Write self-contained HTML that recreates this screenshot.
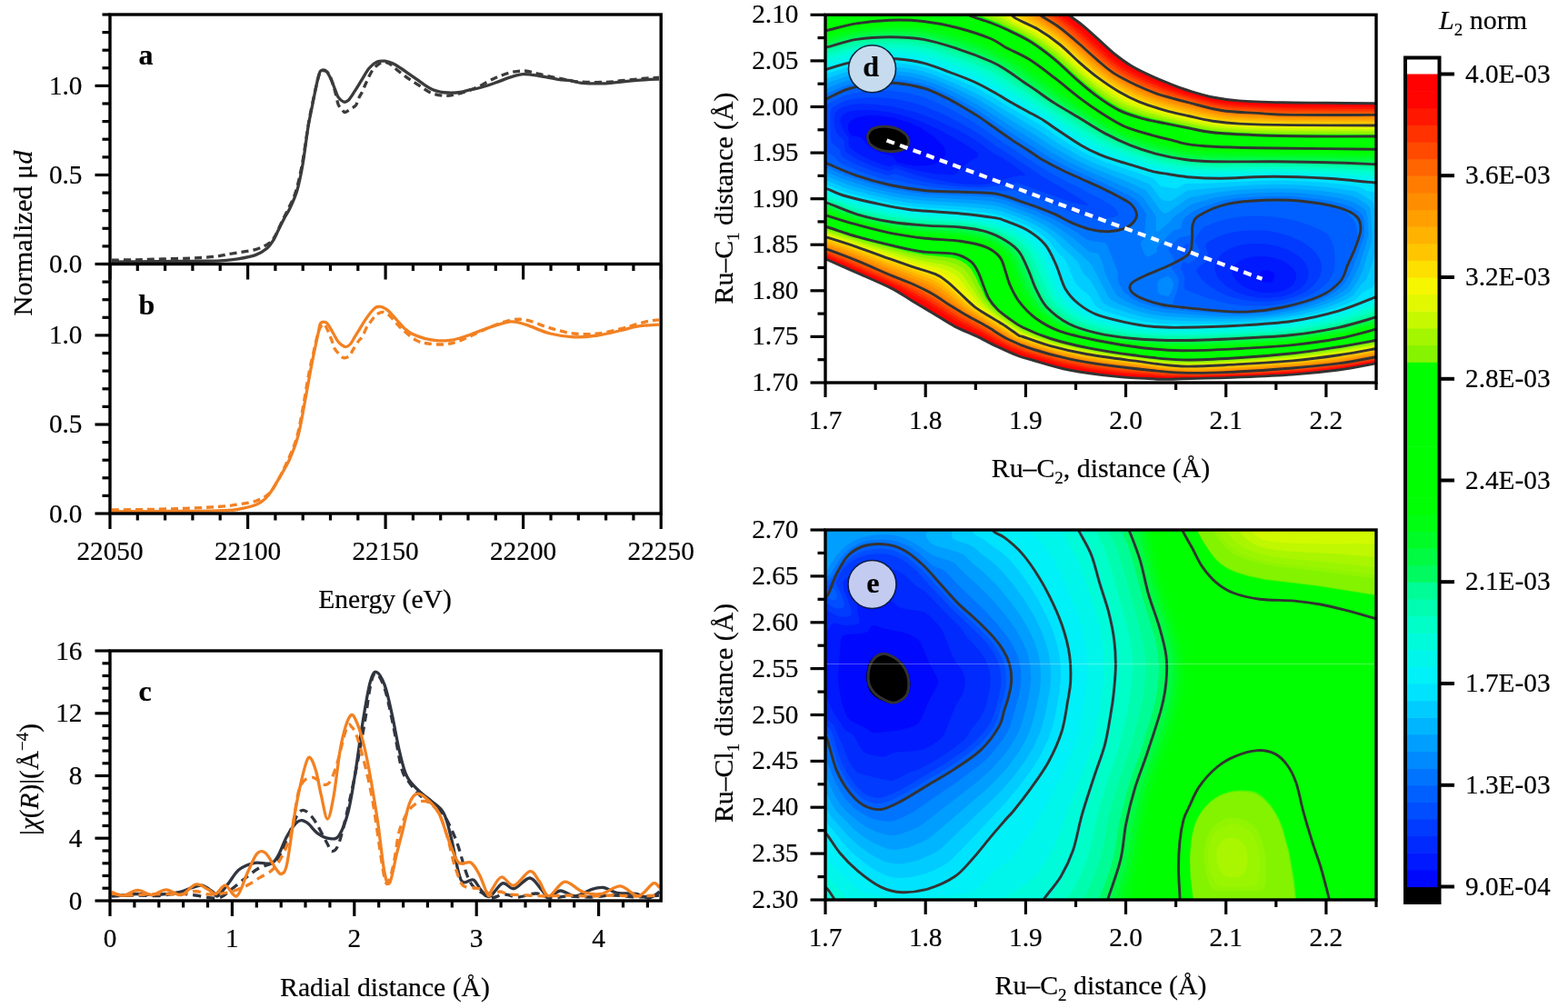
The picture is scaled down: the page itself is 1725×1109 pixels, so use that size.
<!DOCTYPE html><html><head><meta charset="utf-8"><title>figure</title><style>html,body{margin:0;padding:0;background:#fff;}svg{display:block;} text{stroke:#000;stroke-width:0.2px;}</style></head><body>
<svg width="1725" height="1109" viewBox="0 0 1725 1109" font-family="'Liberation Serif','Times New Roman',serif">
<defs>
<clipPath id="clipA"><rect x="121" y="16" width="606.2" height="274.5"/></clipPath>
<clipPath id="clipB"><rect x="121" y="290.5" width="606.2" height="274.5"/></clipPath>
<clipPath id="clipC"><rect x="121" y="716" width="606.2" height="275"/></clipPath>
</defs>
<rect width="1725" height="1109" fill="#fff"/>
<defs><clipPath id="clipD"><rect x="908" y="16.3" width="606" height="404.7"/></clipPath>
<clipPath id="clipE"><rect x="908" y="583" width="606" height="407"/></clipPath></defs>
<g clip-path="url(#clipD)">
<rect x="904" y="12" width="614" height="413" fill="#000000"/>
<path fill="#0008fd" fill-rule="evenodd" d="M904 12l614 0 0 413-614 0 0-413zM967 139l-4 0.8-4 1.6-2.9 2.6-1.2 2-0.4 3 1.1 5 1.5 3 3.1 3 9.5 5 9.3 1.5 8 0.3 3-0.4 5-1.8 3.3-2.6 2.1-5-0.2-4-2.3-4-4.3-4-6.6-3.9-5-1.8-7-1-8 0.7z"/>
<path fill="#0019fe" fill-rule="evenodd" d="M904 12l614 0 0 413-614 0 0-413zM956 127l-11 1.6-4.2 1.4-3.7 2-2.2 2-1.2 2-0.7 2.7 0 3.3 1 3.4 2 3 2 1.1 6 0.7 3 1 2 1.6 5.6 7.2 7.4 5.1 8 3.5 12 3.2 1.4 1.2 2.6 4.4 2 1.2 9.3 2.4 9.7 1.4 12.9-0.4 9.1-1.9 5.9-3.1 4.5-5 0.6-2-0.2-3-0.7-4-1.1-2-6.5-7-4.5-4-13.6-9-13.1-6-16.2-5-15.1-2.6-13-0.4zM1389 297.8l-1.6 1.2-1 3-0.3 4 0.9 2.5 2.8 1.5 4.2 0.7 4-0.4 2.5-1.3 1-2 0.4-3-0.1-2-1-2-2.8-1.6-3-0.8-6 0.2z"/>
<path fill="#002afe" fill-rule="evenodd" d="M904 12l614 0 0 413-614 0 0-413zM945 121l-10 1.6-4 1.4-3.5 2-1.9 2-1.2 3 0 3 0.8 3 3.3 7 5.3 8-0.2 7 1.4 3.1 5 4.1 7.6 4.8 7.7 4 9.7 4.1 12 4 2.6-0.1 4.4-2.2 20 5.7 13 2.8 13 2 17 1.1 2-0.2 2.2-1.2 15.8-13.4 7.6-4.6 1.4-2-0.2-2-2.7-3-14.2-9-27.2-15-19.7-8.7-17-5.7-18-4.3-17-2.3-15 0zM1382 282l-9 1.4-7 2.5-6 3.8-3.6 4.3-1 4 1.1 5 3.9 6 5.7 5 6.9 3.7 8 2.7 9 1.5 9 0.2 8-1.1 7-2.2 6-3.6 3.8-4.2 2.1-5-0.2-5-2.7-5-6-5.5-7-3.9-9-3-9-1.5-10-0.1z"/>
<path fill="#003bff" fill-rule="evenodd" d="M904 12l614 0 0 413-614 0 0-413zM939 114.9l-6 1.1-6 2-4 2.1-3.3 2.9-1.3 2-0.5 3 0.1 9 0.8 5 1.2 3.1 2 2.9 7 7.3 0.3 8.7 1.2 3 10.6 7 13.9 6.7 11 4.1 10 3.1 3 0 5-2.6 2-0.1 22 7.2 17.6 4.6 21.4 4 17 1.8 12 0.4 11-0.9 6-1.4 10-3.6 18-4 7.3-0.3-0.4-1-3.2-3-9.7-7-12-8.3-10-4.9-11.4-8.8-11.6-7.8-18-10.1-22-10.2-24-8.7-25-6.1-23-2.7-10-0.1-9 0.6zM1376 267.9l-12 1.9-10 3.3-9 5.3-3 2.8-2 2.9-2 4.3-1.4 4.6-0.2 3 0.8 4 1.8 4 2.7 4 7.5 7 10.5 6 11.4 4 12.9 2.4 13 0.4 13-1.6 10.7-3.2 9-5 6.1-6 2.3-4 1.2-4 0.3-4-0.7-4-1.6-4-2.6-4-3.7-4-4-3.3-11-6.2-12-4.1-14-2.3-14-0.2z"/>
<path fill="#004eff" fill-rule="evenodd" d="M904 12l614 0 0 413-614 0 0-413zM945 108l-12 2.1-10 3.8-8 5.2-1.2 1.9-0.5 3 0.1 24 0.5 5 1 3 2.1 2.8 6.6 5.2 1.4 6 1 2 5 3.3 10 5.2 17 6.9 17 5.2 3 0.2 4-1.3 2-0.2 18 5.1 15 3.5 13 2.3 16 2.1 20 1.7 16 0.1 22-2.4 12-2.3 4 0 57 20.7 13 3.2 6.4 0.7 0.3-1-0.9-1-9.7-7-37.1-21.4-42-28.2-9.9-5.4-12-9-13.1-8.8-14-8.2-20-10.2-24-9.8-12-3.5-12-2.7-10-1.5-10-0.9-13-0.2-12 0.8zM1366 253.9l-12 2-12 3.7-11.2 5.4-3 2-1.5 2 0.2 3 2.6 7-0.5 4-2.3 5-8.8 7-1.3 3 1.3 3 4.5 6 5 5 6.7 5 13.3 7 8.4 3 8.6 2.3 18 2.6 17-0.1 9-1.1 8-1.6 7.1-2.1 7.4-3 5.6-3 5.6-4 4.4-4 3.8-5 2.7-5 1.4-6 0-5-1.3-5-2.5-5-3.8-5-5.4-5-5.5-4-7.5-4.2-8-3.5-8-2.6-9-2.2-9-1.4-10-0.8-18 0.6z"/>
<path fill="#0060ff" fill-rule="evenodd" d="M904 12l614 0 0 413-614 0 0-413zM958 100l-16 2-11 2.7-8.1 3.3-10.9 5.7-2 1.4-1 1.8-0.4 38.1 0.7 10 1.7 3.2 7 4.2 4 5.2 5 2.8 19.8 8.6 22.2 7.1 7 1.6 7 0 17 4 16 2.9 15 1.8 31 2.2 33 0.5 10 0.8 10-0.6 47 16.8 14 6.5 24 7.6 4 0.4 17-0.7 6.5-1.9 2.9-2-0.1-2-1.2-2-5.1-5.4-15-8.8-11-5.3-10-6.1-14-6.4-24-13.1-48-31.1-29-20.4-13-7.7-19-10.2-22-9.6-19-5.3-20-2.9-9-0.3-13 0.6zM1304 269l-3.9 4-1.8 3 0.6 3 2.1 1.7 1-0.1 2-1.7 2-3.1 2-4.8 0-2-1-0.7-3 0.7zM1369 238l-15 1.8-15 3.9-13 5.4-3 2.2-3 3.4-4.8 7.3-0.9 3 5.1 10 0.2 3-1.6 4-2.6 3-7.4 4.7-2 0.2-3-2-1 0.1-1.5 2-1.1 3 0 3 3.8 8-0.6 11 0.4 2.5 1 1.3 26 9.8 17 4.6 11 2 11 1.2 11 0.4 11-0.3 12-1.1 11-1.9 11-2.8 10-3.5 9.3-4.2 6.6-4 6.3-5 4.6-5 3.8-6 1.9-5 1-7 0.1-8-0.7-8-1.7-7-3.9-8-2.6-3-7-4-12.7-5.6-10-3.3-10-2.6-11-2-13-1.4-14-0.5-13 0.4z"/>
<path fill="#0074ff" fill-rule="evenodd" d="M904 12l614 0 0 413-614 0 0-247.9 9 3.4 18.9 8.5 13.5 5 23.9 7 18.9 4 17.5 3 17.3 1.9 70 3 6 0.9 11 2.7 26 9 16 6.1 9 3.8 15 7.7 16 6.9 11 3.1 10 1.2 11 0.3 5 1.3 4.1-2.9 7.9-3.4 4-2.9 3-3.9 1.9-5.8-1.2-5-3.3-5-4.4-3.9-6.7-4.1-21.2-11-39.1-17.7-21-10.7-10-6-29-19-33.9-23.6-10.9-7-26.5-15-22.5-10-14.7-4-15.5-2.6-12-0.7-14 0.8-17 2.3-13 3-8.6 3.2-15.4 7.3-6 2.1 0-98.4zM1379 222l-20 1.9-10.8 2.1-12.4 4-13.3 6-5.5 3.5-3.2 3.5-2 5-0.8 8-1 2.3-2 1.1-10 1.6-11.2 11-1.2 2 0 2 5.4 9 0.5 2-0.5 1.4-2.9 2.6-0.6 2 8 11 1.6 4-1.6 10-4.8 14-0.4 2 0.5 1 3 1 25.7 3 37.5 3.1 20 0 21.2-2.1 25.1-5 13.9-4 11-4 8.4-4 6.5-4 6.2-5 5.6-6 3.1-5.4 3.7-10.6 5.3-12.1 5-13.7 1.3-5.2-0.3-8.1-2-7.7-3.4-5.2-5-5-4.2-3-9.1-3-13.9-3-19.9-3-27.5-1.8-29 0.8z"/>
<path fill="#008aff" fill-rule="evenodd" d="M904 12l614 0 0 413-614 0 0-242 4 1 23 9.5 12 4.3 19 5.5 19.7 4.7 18.3 3.3 18 2.1 60 2.7 17 1.4 14 3.7 32.4 11.8 16.6 7.4 25 14 12 8.9 8 2.3 13 1.5 1 0.9 1.6 3 11 28 0.7 3-0.9 5 0.7 3 4 8 3 4 7.5 6 9.4 4.7 15 4.6 15 2.9 34 3.1 27 1.7 17 0.6 15-0.5 20-1.9 18.4-3.2 20.4-5 16.2-5.4 9-4.1 9-5.5 7.3-6 4.6-6 2.8-5 7.7-19 7.8-23 1-7-0.9-13-0.9-3-1.9-3-3.5-2.9-7-4.4-13-4.3-12-2.5-14-2.2-28-2.6-28-0.1-31 2.1-12.4 1.9-11.7 3-14.3 5-10.6 5.1-6.8 4.9-3.2 3-1.5 3-0.8 5-0.8 2-1.7 1-5.2 1.2-2 1.2-15.7 15.6-1.7 3 0 4-0.6 1.2-7 3.4-2 0.7-2-0.2-2.3-3.1-3.9-11 0.5-2 2.8-3 1.1-3 0.9-16 0.9-7-1-3-2.4-4-5.1-7-3.5-3.4-4-2.9-7-3.7-23.1-11-36.9-16.5-22-11.4-42-26.9-35.8-24.2-14.2-8.4-17.7-9.6-19.3-8.7-13-4.4-19-3.9-17-1.3-19 1.3-20 3.5-11 3.2-19 8.3-5 1.2 0-92.2zM1281 305l3-0.9 2 0.4 3 2.9 1.9 3.6-0.1 4-1.6 5-2.2 4.2-2 1.5-3-0.1-5-1.3-2.1-1.3-1-2-0.6-9 0.7-3 2-1.8 5-2.2z"/>
<path fill="#009fff" fill-rule="evenodd" d="M904 12l614 0 0 413-614 0 0-237.2 7 2.1 19 7.8 11 3.8 19.6 5.5 21.4 5 17 3 18 2.1 56 2.9 21 1.8 12 2.9 28.3 10.3 16.7 7.7 12.4 7.3 16.6 11.5 17 14.6 3 1.3 6 1 2 0.8 1.9 2.8 3.9 10 1.6 8 1.2 3 9.9 19 3.5 4 10 6 12 5.3 16 4.4 14 2.4 35 2.5 28 1.3 19 0.2 16-0.7 20-2 19-3.3 20-4.7 17-5.6 12-5.5 8.6-5.3 5.4-4.3 4.1-5.7 4.3-7 4.9-12 9.6-30 0.6-5-1.2-19-1.1-5-1.2-1.9-2-1.8-11-7.1-15-4.1-21-3.4-23-2.4-22-0.9-29 0.8-25 2.2-18 3.2-23 6.5-4.1 1.9-16.8 12-2.2 2-2.9 4.3-3.9 2.7-7.1 6.6-3 1.4-1-1-0.3-2 0.2-12-0.7-3-13.2-19-5-4.5-11-5.8-49.8-21.7-22.4-11-17.8-10.4-16-10.7-20-12.4-40-26-23.1-12.5-20.9-9.5-14-5.1-15-3.6-16-2.2-15-0.2-18 1.7-17 3.2-10 2.9-19 7.6-4 0.9 0-86.7z"/>
<path fill="#00b5ff" fill-rule="evenodd" d="M904 12l614 0 0 413-614 0 0-232.4 8 2.3 16 6.6 11 3.7 19 5.2 24 5.5 16 2.8 16 1.9 57 3.4 23 2.2 11 2.7 26 9.6 17 8.4 12 7.8 7.9 6.3 30.9 28 3.2 4.8 17 32.2 3 3.8 10.1 5.2 16.9 6.5 13.3 3.5 16.7 2.8 34 2 28 0.8 23 0 19-1 21-2.2 20-3.3 20-4.8 17-5.5 12-5.3 11-6.5 3-3.1 7.3-10.9 4.3-9 8.6-27 1.8-7 0.5-6-1.5-27-1-3.9-1.8-2.1-12.2-8.2-4-1.8-16-3.4-22-2.9-25-2-28-0.5-34 1.6-23 2.5-32 5.9-3 1.5-21 14.8-3 1.3-2-0.2-4-4.1-14-19.5-3.9-3-14.1-6.5-42-17.1-19-8.9-22.1-12.5-22.9-15.1-31-18.9-20-13-13.7-8-26.4-13-18.9-7.8-12.6-4.2-13.4-2.9-14-1.8-12-0.5-13 0.6-15 2-14 2.8-30 10 0-81.2z"/>
<path fill="#00ccff" fill-rule="evenodd" d="M904 12l614 0 0 413-614 0 0-227.7 8 2.2 15 6.2 11 3.6 19 4.9 25 5.7 15 2.5 14 1.7 49 3.2 33 3.2 10 2.2 24 9 16 8.1 10.6 7.2 6.9 6 8.5 9.3 14.8 13.7 3.1 4 3.3 8 1.8 3 7 6.8 2 2.7 11 20.5 2.5 3 7.9 4 22.6 7.6 15 3.6 17 2.6 32 1.4 35 0.3 24-0.5 24-1.7 23-2.8 19-3.5 20-5.1 17.1-5.9 10.9-5 6.7-4 9.3-12.7 4.5-4.3 1.3-2 7.2-20 1.2-9 0.5-17-0.7-28-1.2-9-1.8-2.2-15-9.1-3-1.3-26-4-30-2.6-29-1-27 0.7-32 2.2-40 3.9-3 1.3-15 9.9-3 0.6-5-0.7-3-1.3-2-1.9-9-12.2-3-2.7-13-5.3-41-15.4-21-9.5-21-12.1-27-17.8-62.5-37.5-22.5-11.1-31-12.5-13-3.9-14-2.6-15-1.5-14 0.1-16 1.5-16 2.8-10 2.6-17 5.8-6 1.5 0-75.7z"/>
<path fill="#00e3ff" fill-rule="evenodd" d="M904 12l614 0 0 413-614 0 0-222.9 7 1.6 14 5.8 11 3.5 19.7 5 27.3 6 25 3.6 50 3.5 34 3.7 10 2.1 20 7.5 9 4.1 10 6 7.5 5.5 6.3 6 9.1 12 8.6 9 2.9 6 4.8 13 3.5 6 5.3 5.7 10 8.1 6.1 10.2 1.9 2.2 10.2 4.8 23.8 6.9 18 3.8 18 2.2 31 0.7 41-0.4 30-1.4 27-2.4 22-3.2 22-4.7 22-6.5 15.1-6 5.2-3 6.7-7.4 11-5.4 2.6-5.2 1.7-7 0.9-10 0.4-45-0.3-27-0.4-5-0.9-3.8-2-1.8-9-1.7-8-4.1-3-0.9-20-2.5-22-1.9-23-1.3-25-0.5-21 0.6-53 2.6-23 0.3-2.9 1-6.1 3.7-3 0.8-15-2.3-2-1.2-5.3-6-2.7-1.9-53-18.1-13-5.4-11-5.4-20.3-12.2-26.8-18-31.9-18.1-21-12.9-17-9.2-22.2-9.8-22.8-8.9-12-3.9-13-2.8-14-1.9-12-0.7-13 0.4-14 1.5-15 2.6-10 2.6-16 5.1-6 1.2 0-70.2z"/>
<path fill="#00f1f8" fill-rule="evenodd" d="M904 12l614 0 0 190.8-40.2-4.8-38.8-2.5-40-0.9-51 1.9-21 0-29-1.7-21-3.2-15-4.1-35-10.9-14-5-12-5.2-18-10.1-36.3-24.3-31.7-17.6-31.5-18.4-21.5-10-40.2-15-11.8-3-15-2.4-14-1.1-14 0.1-14 1.3-15 2.5-11 2.5-17 5.2-6 1 0-65.1zM904 207l0-0.8 1 0.1 5 1.1 16 6.5 14.1 4.1 39.9 9 25 3.8 51 3.8 34 4 11 2.2 20 7.7 8 3.9 9 5.9 7.1 5.7 5.6 6 4 6 5.9 11 3.8 9 5.6 15.6 3 6.2 5.2 7.2 7.2 7 14.1 10 8.4 4 16.8 5 23.1 5 12.5 2 14.7 1.4 30 0.5 56-1.7 29-1.8 22-2 27.6-4.4 28.9-7 18.2-6 31.3-12.8 0 100.8-614 0 0-218z"/>
<path fill="#00f6ea" fill-rule="evenodd" d="M904 12l614 0 0 186.1-50-4.3-42-1.9-31-0.3-52 1.6-24-0.6-23-2.4-22-3.6-12-3.1-38-12.1-21-8.7-17-9.7-37-24.4-63-36.7-21.5-9.9-40.5-14.8-13-3.3-14-2.2-15-1.2-14 0-14 1.2-14 2.1-12 2.7-18 5.3-6 1.1 0-60.9zM904 210l0-0.7 5 0.9 16 6.3 16 4.8 39 8.8 24 3.5 51 3.7 28 3.3 16 3 18 7.2 8.5 4.2 7.7 5 7.2 6 5.6 6.1 3.9 5.9 4.4 9 3.9 9 6.3 17 2.8 6 5.6 8 6.9 7 10.8 8 12.4 6.2 15 4.8 20 4.4 27 4 13 1 15 0.2 57-1.4 58-3.8 28-3.9 29-6.3 18-5.3 35-12.7 0 95.8-614 0 0-215z"/>
<path fill="#00fbdb" fill-rule="evenodd" d="M904 12l614 0 0 182.7-50-3.9-41-1.7-32-0.3-52 1.3-23-0.5-23-2.5-22-3.7-11-2.8-35-11.3-12-4.6-11-5-14-7.8-40-25.9-63.2-38-10.2-5-12.6-5.3-39-14.1-13-3.4-15-2.4-16-1.2-15 0-14 1.1-14 2.1-12 2.8-19 5.5-5 0.7 0-56.8zM904 212l6 1.2 15 5.8 16 5.1 37 8.5 25 3.6 51 3.6 24 2.8 19 3.6 15 6.1 9.5 4.7 6.2 4 7.4 6 6.4 7 3.8 6 4 8 13 32 5.4 8 6.7 7 11.6 8.7 11 5.8 14 4.9 19 4.4 30 4.7 15 1.1 14 0.4 54-1.1 62-3.8 29-3.6 30-6.1 20-5.6 34-11.8 0 92-614 0 0-213z"/>
<path fill="#00fec8" fill-rule="evenodd" d="M904 12l614 0 0 179.2-50-3.4-40-1.4-33-0.4-52 1-23-0.5-24-2.7-20-3.5-11-2.8-33-10.9-23-9.9-16-9-90-56.8-12-7.1-10-4.8-13-5.5-38-13.5-13-3.5-15-2.5-17-1.3-16 0-15 1.1-13 1.8-13 3-19 5.4-5 0.8 0-52.8zM904 215l0-0.4 1 0 4 0.8 19 7.2 15 4.8 33 7.6 27 3.9 50 3.3 21 2.4 21 4.2 13 5.4 9.5 4.8 6.5 4.1 6.9 5.9 6.1 6.9 3.3 5.1 3.9 8 9.6 24 4.1 9 4.7 7 7.4 7.9 10.6 8.1 12.4 6.6 14 5 18 4.2 30 4.6 16 1.4 17 0.6 51-1 64-3.6 30-3.5 31-6 20.2-5.3 33.8-11.3 0 88.3-614 0 0-210z"/>
<path fill="#00fdaf" fill-rule="evenodd" d="M904 12l614 0 0 175.8-50-2.9-38-1.3-34-0.3-54 0.7-22-0.5-24-2.8-18-3.3-12-3-17.1-5.4-16.3-6-13.6-5.8-12.3-6.2-38.7-23.6-63-40.7-14-8.2-24-10.3-34-11.8-14-3.8-14-2.4-17-1.4-18-0.1-15 1-14 1.9-12 2.7-20 5.7-5 0.8 0-48.8zM904 218l0-0.8 6 1.1 21 8 14 4.5 32 7.2 26 3.6 49 3 16 1.7 18 3.2 8 2.2 6 2.4 10.1 4.9 8.9 5.3 6.9 5.7 5.4 6 3.3 5 3.6 7 10.2 25 5.1 11 4.6 7 7.7 8 11.2 8.5 11 6 14 5 18 4.4 16 2.8 16 2 17 1.4 18 0.6 47-0.7 66-3.5 31-3.3 32-5.8 21-5.2 34-10.7 0 84.5-614 0 0-207z"/>
<path fill="#00fc96" fill-rule="evenodd" d="M904 12l614 0 0 172.3-48-2.3-33.7-1-39.3-0.5-55 0.5-22-0.6-24-2.9-17-3.2-12-3-15-4.7-16-6-14-6.3-13-6.6-51-31.2-50-33.3-14-8.5-24-10.2-32-11.1-16-4.4-14-2.6-17-1.5-19-0.2-16 1-15 1.9-11 2.5-20 5.7-6 1 0-44.8zM904 220l3 0.1 4 1.1 20.2 7.8 11.9 4 15.5 4 15.4 3.3 13 2.1 15 1.7 49 3 16 1.6 17 3.1 8 2.3 6 2.5 10 5.1 8.3 5.3 5.7 4.9 4.4 5.1 6.3 11 10.6 26 5.7 11.9 4.7 7.1 6.6 7 11.5 9 11.2 6.3 15 5.5 17.2 4.2 17.5 3 16.7 2 17.6 1.3 19.1 0.7 43.9-0.5 68.4-3.5 30.9-3 30.2-5 22.5-5.1 36-10.7 0 80.8-614 0 0-205z"/>
<path fill="#00fa60" fill-rule="evenodd" d="M904 12l614 0 0 169.1-79-2.8-97-0.3-21-0.5-10-0.9-14-2-29-6.4-15-4.7-15-5.7-14-6.4-13-6.9-50.1-30.5-49.6-34-14.7-9-23.3-10-28.9-10-17.3-5-15.1-3-17-1.7-20-0.4-18 1-16 2-10 2.2-21 5.9-6 1 0-41zM904 223l0-0.6 2 0.1 5 1.1 21.6 8.4 12.2 4 30 7 12.3 2 15.9 1.8 20 1.5 28 1.3 15 1.5 17 3.2 13 4.7 9 4.8 7.9 5.2 4.8 4 4.3 5 5.5 10 10.5 26 6 12.2 5 8 6.4 6.8 11.3 9 12.2 7 13.4 5 20.3 5 17.5 3 16.8 2 19.1 1.4 20 0.8 40-0.4 67-3.2 31-2.6 33.3-5 23.7-5 37-10.4 0 77.4-614 0 0-202z"/>
<path fill="#00fb42" fill-rule="evenodd" d="M904 12l614 0 0 166.1-74-2.2-99-0.7-23-0.6-11-0.9-13-1.9-29-6.6-14-4.2-13-4.8-11-4.8-12-6-12-6.9-39.4-24.5-49.2-34-16.4-10.3-20-9.6-31.2-11.1-18.8-5.5-17-3.6-17-1.8-19-0.5-19 0.8-18 2.1-11.5 2.5-20.5 5.7-6 1.1 0-37.8zM904 225l3 0 4 1.1 21 7.9 12.2 4 29.8 7.1 14 2.3 15 1.7 20 1.7 28 1.3 14 1.5 16 2.9 13 4.6 7.3 3.9 7.7 5.1 5 4.2 4.1 4.7 4.5 8 10.9 27 4.4 9 6.7 11 7.4 8.1 12.8 9.9 13.1 7 14.3 5 21.3 5 18.1 3 17.3 2 20.1 1.5 19 0.7 38-0.4 66-3.1 33-2.8 33.5-4.9 23.8-5 35.7-9.8 0 74.8-614 0 0-200z"/>
<path fill="#00fc27" fill-rule="evenodd" d="M904 12l614 0 0 163.4-68-1.9-102-0.9-25-0.7-23-2.7-29-6.6-15-4.5-13-4.6-11-4.7-11-5.5-15.8-9.3-31.4-20-48.8-34.3-13.7-8.7-24.3-13-14-5.4-17-5.8-20-5.9-17-3.7-17-2-18-0.7-20 0.6-20 2.2-11 2.1-22 6-7 1.3 0-34.7zM904 228l0-0.8 5 0.7 33 11.4 17.8 4.7 17.2 3.7 15 2.4 17 1.9 41 2.5 13 1.4 16 2.9 13 4.4 7 3.7 6.1 4.1 4.9 4 4.5 5 3.9 7 10.3 26 3.8 8 8 13 8.2 9 13.4 10 13.4 7 14.4 5 21.2 5 17.1 3 17.8 2.3 20 1.7 20 1 37-0.1 63-3 36-2.7 34-4.7 25-5 37-10 0 72.5-614 0 0-197z"/>
<path fill="#00fe12" fill-rule="evenodd" d="M904 12l614 0 0 160.6-59-1.5-107-1.1-27-0.9-12-0.9-12-1.8-29-6.8-16-4.7-13-4.5-10-4.2-10.4-5.2-16.8-10-24.5-16-40.3-29.1-22.3-14.9-29.7-16.2-13-5.2-17-5.8-21-6-17-3.6-17-2.1-18-0.7-21 0.7-20 2.1-11 2-23 6.1-7 1.3 0-31.6zM904 230l0-0.5 1 0.1 4 0.7 34 11.2 18 4.7 17 3.7 15 2.5 18 2.1 39 2.5 13 1.5 16 3 12 4.2 6.1 3.3 5.7 4 5.2 4.6 3.6 4.4 3.1 6 8.7 23 4.6 10 8.4 13 8.1 9 13.2 10 13.1 7 16.2 5.8 22.2 5.2 17.8 3.2 19 2.6 38 3 35 0 57-2.5 42-2.9 34.5-4.4 27.5-5.2 38-10.1 0 70.3-614 0 0-195z"/>
<path fill="#00ff04" fill-rule="evenodd" d="M904 12l614 0 0 157.8-160-2.3-28-0.9-14-1-13-1.7-30-7.3-18-5.1-13-4.5-10-4.3-10.8-5.7-17.8-11-17.9-12-40.5-30.1-17.1-11.9-34.9-19.5-9-4-24-8.3-22.8-6.2-20.2-3.8-19-1.6-24-0.1-24 2.1-15 2.5-25 6.4-6 1 0-28.5zM904 232l7 1.2 37 11.6 31 7.3 16 2.7 19 2.3 36 2.4 12 1.4 16 3.1 11.4 4 5.6 3 5 3.6 4.9 4.4 3.1 3.9 2.7 5.1 7.5 21 5.9 13 4.3 7 5.2 7 8.4 8.7 12.7 9.3 13.5 7 16.8 5.8 24 5.5 36 5.8 36 3.3 31 0.5 48.2-1.9 49.8-3 37-4.2 31-5.5 40-10.4 0 68.1-614 0 0-193z"/>
<path fill="#00ff00" fill-rule="evenodd" d="M904 12l614 0 0 155.1-172-2.6-28-1.6-19.4-2.9-28.6-7.3-19-5.6-12-4.2-11-5.3-18-10.8-17-11.3-45.4-34.5-16.6-11.7-9-5.2-17-8.7-11-6.6-11-4.8-24-8-22-5.6-20-3.5-20-1.6-23 0.2-23 2-15 2.4-25 6.3-7 1.2 0-25.4zM904 235l0-0.8 5 0.8 35 10.6 21 5.5 16 3.5 16 2.7 19 2.3 33 2.3 11 1.3 16 3.1 12 4 9 5.6 7 7.2 3.1 5.9 7.4 22 5.6 12 3.7 6 5.4 7 9.7 10 12.7 9 14.4 7.2 17 5.6 24 5.5 36 6.1 34 3.6 28 0.8 38-1.1 62-3.5 39-4.1 34-5.8 40-10.2 0 65.9-614 0 0-190z"/>
<path fill="#00ff00" fill-rule="evenodd" d="M904 12l614 0 0 152.4-166-2.3-31-1.7-21-3.1-49-13.1-11-3.8-11-5.2-18-10.9-16-10.8-44-34.5-16.7-12-10.3-6-17-8.4-12.5-7.6-12-5-24.5-7.9-22-5.7-19-3-22-1.7-21 0.2-25 2.5-13 2.1-26.9 6.5-5.1 0.8 0-21.8zM904 237l0-0.5 1 0 5 0.9 37 11 34 8.3 17 3 19 2.5 41 3.3 17 3.4 11 3.8 8.5 5.3 6.4 7 2.4 5 7 22 5.2 11 7.5 11 6.1 7 5.3 5 6.4 5 7.7 5 14.1 7 17.4 5.7 25 5.7 36 6.2 35 4 26 1 32-0.7 65-3.5 41-4.1 36-5.7 42-10.3 0 63.7-614 0 0-188z"/>
<path fill="#00ff00" fill-rule="evenodd" d="M904 12l614 0 0 149.9-115-1.1-46-1-32-1.8-24-3.4-50-13.1-12-4.2-10-4.8-18-10.9-15-10.3-42-33.7-18.7-13.6-10.3-6-17-8.5-12-7.1-13.1-5.4-28.9-9.4-21-6-13-2-33-3-13 0.3-29 3.3-25 4.4-16 3.5 0-16.1zM904 239l0-0.4 1 0.1 5 0.9 37 10.9 34 8.4 18 3.2 17 2.4 40 3.2 15.1 3.3 11.3 4 7.6 4.6 6.1 6.4 3 6 7.2 22 4.9 10 3.9 6 4 5 11.9 12 14.6 10 14.3 7 17.1 5.6 25 5.8 36 6.3 36 4.4 25 1.3 30-0.5 65-3.5 43-4 39-6.1 42-9.8 0 61.5-614 0 0-186z"/>
<path fill="#00ff00" fill-rule="evenodd" d="M904 12l57.1 0-8.1 1.8-37 5.6-12 2.4 0-9.8zM999.2 12l518.8 0 0 147.5-124-1.1-36-1-25-1.3-14-1.5-16-2.6-48-11.9-11-3.5-8-3.2-10-5.1-11-6.7-23-16.1-34-28.2-18-13.6-12-7.5-19-9.6-11.6-6.6-14.4-5.9-37-12.1-13-4.7-6-1.2-18-2.1-9.8-2zM904 241l2-0.2 4 0.8 37 11.1 34 8.4 18 3.4 17 2.5 38 3 12 2.7 11.8 4.3 8.2 4.9 5.7 6.1 3 6 7.5 22 4.6 9 6.5 9 14.3 14 14.4 9.6 15.2 7.4 17.8 5.9 24 5.5 36 6.4 38 4.8 24 1.4 28-0.2 65-3.5 44-4 41.5-6.3 42.5-9.5 0 59.5-614 0 0-184z"/>
<path fill="#00ff00" fill-rule="evenodd" d="M904 12l15.9 0-2.7 1-13.2 2.5 0-3.5zM1032.8 12l485.2 0 0 145.1-118-0.9-39-1.2-26-1.4-14-1.5-17-2.9-52-12.5-11-3.7-9-4-10-5.5-12-7.6-19-14-39-32.7-13-9.5-11-6.9-34-17.4-47-16.6-11.5-4.8-2.7-2zM904 243l6 0.7 37 11.2 37 9 32 5.6 36 2.7 9 1.9 10.6 3.9 8.8 5 6.1 6 3.5 6 7.6 22 4.6 9 7.6 10 15.2 13.8 14.7 9.2 16.3 7.6 18 5.8 24 5.5 36 6.3 38 4.9 24 1.6 27-0.2 62-3.2 46-4.1 43-6.4 44-9.2 0 57.4-614 0 0-182z"/>
<path fill="#00ff00" fill-rule="evenodd" d="M1042.2 12l475.8 0 0 142.8-113-0.8-40-1.2-28-1.6-14-1.5-18-3.3-41-9.1-13-3.5-11-3.7-9-4-9.1-5.1-11.9-7.7-19.1-14.3-35.9-30.9-13-9.7-12-7.8-33-16.8-11-4.4-21.8-7.4-17.2-7-4.8-3zM904 245l7 1 27 8.5 17 4.8 34 7.9 28 5 34 2.3 8 1.9 8 3.1 9.3 5.5 5.7 5.8 3.6 6.2 7.9 22 4.7 9 8.1 10 15.2 13 5.8 4 9.1 5 17.6 7.9 19 6 23 5.3 36 6.3 40 5.2 24 1.7 25-0.1 61-3.2 46-4.1 46-6.6 44-8.7 0 55.3-614 0 0-180z"/>
<path fill="#00ff00" fill-rule="evenodd" d="M1051.6 12l466.4 0 0 140.4-109-0.6-40-1.2-30-1.8-12-1.2-10-1.7-51-10.7-15.7-4.2-10.3-3.5-10-4.4-8.9-5.1-10.7-7-18.4-14-35-30.8-14-10.5-12-7.9-9-5-23-11.2-11-4.4-22-7.5-11.7-5.7-2.7-2zM904 247l7 1.1 27 8.6 17 4.7 41 9.7 22 3.7 31 2 7 1.5 6 2.2 9.4 5.5 3.3 3 3.2 4 3.8 7 8.5 23 2.7 5 3.5 5 7.5 8 13.8 11 5.8 4 7.4 4 20.7 9 19.3 6 25.9 6 35.1 6 41.1 5.3 23.6 1.7 23.7 0 57.1-3 48.6-4.2 47-6.7 45-8.4 0 53.3-614 0 0-178z"/>
<path fill="#00ff00" fill-rule="evenodd" d="M1060.2 12l457.8 0 0 138.1-106-0.4-39-1.2-31-1.8-12-1.2-10-1.7-54-11.2-16-4.3-10-3.4-9-4-9-5.1-11.8-7.8-18.1-14-33.1-29.6-14-10.7-12-8.1-10.1-5.6-24.9-11.9-30.4-11.1-5.5-3-1.9-2zM904 249l7 1.1 27.7 8.9 17.3 4.9 43 10.3 19 3.3 29 2 7 1.4 5.6 2.1 8 5 5.4 6 4.7 9 8.3 21 5.5 9 8.5 9 14.5 11 11.2 7 23.6 10 19.4 6 25.6 6 35 6 44.7 5.8 23 1.7 22 0 56-2.9 50-4.3 47-6.5 46-8.3 0 51.5-614 0 0-176z"/>
<path fill="#50f600" fill-rule="evenodd" d="M1068.3 12l449.7 0 0 136.1-105-0.4-39-1.2-30-1.7-13-1.4-10-1.6-54-11.5-15-4.1-11-3.7-9-4-9.7-5.5-10.5-7-18.8-14.5-33-29.6-13-10-12-8.1-10-5.6-27-13.3-24.2-8.9-3.6-2-1.9-2zM904 251l6 0.7 39 12.2 49 12.7 19 3.8 28 2.8 7 1.7 5 2 6.4 4.1 4.6 4.6 5 8.5 11.4 23.9 6.2 8 7.2 7 17.7 13 8.5 5.2 20.9 8.8 18.6 6 29.2 7 35.2 6 51.1 6.5 15 1.2 15 0.3 24-0.7 39-2.1 50-4.2 48-6.5 48-8.4 0 49.9-614 0 0-174z"/>
<path fill="#86f300" fill-rule="evenodd" d="M1068.6 12l449.4 0 0 136-105-0.4-38-1.1-31-1.8-13-1.3-10-1.7-54-11.5-15-4.1-11-3.7-9-4-9.5-5.4-10.5-7-19-14.7-33-29.6-13-9.9-12-8.2-10-5.5-27-13.3-23.8-8.8-3.6-2-2-2zM904 251l6 0.7 39 12.3 49 12.8 19 3.7 28 2.9 6 1.4 5.6 2.2 6.4 4 5 5 5 8.5 11.3 23.5 6.1 8 7.3 7 17.7 13 8.6 5.3 20.7 8.7 18.6 6 29.2 7 35.1 6 51.4 6.6 16 1.2 14 0.3 23-0.7 39-2.1 51-4.2 48-6.5 48-8.4 0 49.8-614 0 0-174z"/>
<path fill="#a3f600" fill-rule="evenodd" d="M1077.3 12l440.7 0 0 134-104-0.4-37-1.1-30-1.6-14-1.4-11-1.8-52-11.4-12.4-3.3-12.6-4.2-10-4.2-10-5.5-11-7.2-20-15.3-33-29.6-12-9.2-11.6-7.8-9.4-5.3-17.8-8.7-10.2-5.8-16.7-6.2-3.9-2-2.1-2zM904 253l2-0.2 5 1.1 38 12.1 49 13.6 17 3.9 27 4 10.5 3.5 6.5 4 4.3 4 4.7 7 9.4 17 4.6 7 7.1 8 8.1 7 18.8 13.4 8 4.8 19.2 7.8 18.8 6 29.1 7 35.4 6 53.5 6.9 15 1.1 14 0.3 21-0.5 40-2.2 52-4.1 49-6.5 47-8.2 0 48.2-614 0 0-172z"/>
<path fill="#c6f900" fill-rule="evenodd" d="M1086.1 12l431.9 0 0 132-105-0.5-37-1-28-1.5-15-1.6-11-1.9-37-8.1-24.8-6.4-20.2-7.4-8-3.9-10-6-12-8.2-11-8.4-14-11.9-20-18.4-18.1-13.8-11.9-7.5-23-11.5-10-6.5-11.7-4.5-3.5-2-0.7-1zM904 255l0-0.4 2 0.1 5 1.1 45 14.3 42 12.5 15 3.8 26 5.2 9 3.1 5.7 3.3 4.8 4 20.3 29 8 8 8.8 7 20.4 14.2 7 4.3 20 7.9 18 5.7 29 6.9 32 5.5 58 7.5 15 1.2 14 0.4 21-0.6 41-2.2 52-4.1 49-6.4 46-8 0 46.7-614 0 0-170z"/>
<path fill="#e2f800" fill-rule="evenodd" d="M1094.9 12l423.1 0 0 130-105-0.5-36-0.9-27-1.4-15-1.7-12-2-36-8-24-6.4-12-4.1-10-4.1-9.5-4.9-10.5-6.4-12-8.3-10-7.7-14-12-18-16.6-15.4-12-15.6-10-22.2-11-8.8-6.6-7.6-3.4-2.5-2zM904 257l0-0.6 2 0.2 5 1.1 83 26.6 17 4.9 20.4 4.8 12.6 4.6 6 3.6 4.6 3.8 16.6 21 6.3 7 8.2 7 8.2 6 28.5 19 21.6 8.2 17 5.2 29 6.8 30 5.1 60 7.9 15 1.2 14 0.4 21-0.6 43-2.3 51-3.9 49-6.3 45-7.9 0 45.2-614 0 0-168z"/>
<path fill="#f6f600" fill-rule="evenodd" d="M1103.9 12l414.1 0 0 128-106-0.5-36-0.9-25-1.3-15-1.7-13-2.3-35-7.9-21-5.8-13.6-4.6-10.4-4.4-11-5.7-12-7.4-11-7.7-11-8.6-12-10.3-17.1-15.9-11.9-9.4-18-11.9-24-12.1-3.6-2.6-7.5-7zM904 259l0-0.7 3 0.3 8 2.3 80 26.7 33 9.5 9 3.5 6 3.4 6.6 5 19.4 21 8.7 8 40.3 27.3 5 2.7 14 5.2 23 7.3 26 6.2 29 5 65 8.6 14 1.2 14 0.5 21-0.5 43-2.3 53-4 48-6 45-7.9 0 43.7-614 0 0-166z"/>
<path fill="#fddf00" fill-rule="evenodd" d="M1110.8 12l407.2 0 0 126-105-0.5-37-0.9-24-1.3-14-1.6-15-2.6-34-7.8-18-5.1-14-4.7-12-5.1-13-6.8-12-7.4-21-15.6-12-10.3-17-15.8-10-8-18.7-12.5-23.5-12-4.6-4-2.4-4zM904 261l0-0.8 4 0.6 19.9 6.2 69.1 24.2 28 8.8 7 2.9 6 3.5 7 5.4 22.5 21.2 7.3 6 28.2 17.9 15 10.2 5 2.6 14 5 22 6.9 28 6.6 27 4.6 66 8.7 15 1.3 14 0.4 21-0.6 44-2.3 52-3.8 48-5.9 44-7.7 0 42.1-614 0 0-164z"/>
<path fill="#ffc600" fill-rule="evenodd" d="M1115.9 12l402.1 0 0 124.1-104-0.5-61-2.3-13-1.4-15-2.7-34-7.9-17-4.8-15-5.1-12-5-13-6.7-13-7.9-11-7.7-10-8-28-25.1-10-8.2-18-12.1-22-11.7-4.4-4-1.7-3zM904 263l0-0.8 5 0.9 24.3 7.9 95.7 34.4 5 2.7 7 5.2 23.7 20.7 7.6 6 28.7 17.7 17 11.3 4 2 16 5.7 22 6.7 27 6.2 29 4.8 64 8.3 15 1.2 14 0.5 21-0.5 45-2.3 53-3.9 46-5.6 44-7.7 0 40.6-614 0 0-162z"/>
<path fill="#ffb200" fill-rule="evenodd" d="M1120.9 12l397.1 0 0 122.1-103-0.3-62-2.6-13-1.5-14-2.6-33-7.8-18-5.1-15-5.1-13-5.5-14-7.3-12-7.3-9.8-7-9.9-8-27.9-25-9.4-7.7-16-11-22-12.5-3.3-2.8-1.8-3zM904 265l0-0.7 5 1 27 9 91 34 5 2.7 6 4.1 32 25.9 47 29.2 5 2.4 15 5.4 23 6.9 28 6.3 28 4.6 64 8.1 15 1.2 15 0.5 21-0.5 44-2.2 54-4 45-5.3 44-7.7 0 39.1-614 0 0-160z"/>
<path fill="#ff9f00" fill-rule="evenodd" d="M1126 12l392 0 0 120.2-103-0.3-62-2.9-12-1.4-14-2.6-32.8-8-18.2-5-15-5.2-13-5.6-15-7.7-12-7.4-18.2-14.1-26.8-24-10-8.3-12-8.5-24.8-15.2-2.2-2-1-2zM904 267l0-0.6 1 0.1 4 0.9 29 10.1 87 33.7 11 6.6 19.4 15.2 13.8 10 46.8 28.4 5 2.5 15 5.4 25 7.4 28 6.2 31 4.9 61 7.4 16 1.2 15 0.4 21-0.5 43-2.1 56-4.2 43-5 43-7.6 0 37.6-614 0 0-158z"/>
<path fill="#ff8d00" fill-rule="evenodd" d="M1131.1 12l386.9 0 0 118.3-102-0.3-62-3-12-1.4-14-2.7-33-8.2-19-5.3-14-5-13-5.5-15-7.7-12-7.2-15.4-12-38.6-33.8-9-6.6-25.5-16.6-2.4-3zM904 269l0-0.5 1 0.1 4 1 30 10.7 82 32.8 12 6.7 19.2 14.2 14.7 10 48.1 28.7 6 2.8 14 5.1 27 7.9 29 6.3 32 4.8 58 6.8 16 1.2 16 0.4 21-0.5 42-2 58-4.3 42-4.9 42-7.4 0 36.1-614 0 0-156z"/>
<path fill="#ff7c00" fill-rule="evenodd" d="M1136.3 12l381.7 0 0 116.3-102-0.2-62-3.2-12-1.5-13-2.6-52-13.7-13-4.6-14-6-15-7.6-12-7.1-12.6-9.8-40.4-35.3-9-6.7-17.3-11-6-5-1.4-2zM904 271l0-0.4 1 0.1 4 1.1 30 11 77 31.7 13 6.7 33 22.4 51 29.8 7 3.4 13 4.8 30 8.8 29 6.1 34 5 55 6.2 17 1.1 16 0.4 21-0.5 41-1.9 60-4.4 39-4.4 43-7.7 0 34.7-614 0 0-154z"/>
<path fill="#ff6500" fill-rule="evenodd" d="M1141.2 12l376.8 0 0 114.3-102-0.1-62-3.5-12-1.5-12-2.4-51-13.7-13-4.6-14-5.9-15.2-7.6-12-7-11.6-9-40.2-35.2-10-7.6-17.4-11.2-3.3-3-1.1-2zM904 273l2 0 4 1.2 30 11.4 60 25 15 6.9 14 7.6 16.1 10.9 15.9 9.8 24 13.3 20 12.1 12 6.1 19 7.1 28 7.9 31 6.3 36 5.1 52 5.4 32 1.2 61.7-2.3 60.3-4.4 40-4.5 41-7.4 0 33.3-614 0 0-152z"/>
<path fill="#ff4a00" fill-rule="evenodd" d="M1146.2 12l371.8 0 0 112.3-102-0.3-61-3.3-12-1.5-13-2.6-47-12.9-13-4.4-15-6.3-16.3-8-11.9-7-11.7-9-38.1-33.5-13-10-14.6-9.5-2.1-2-1.1-2zM904 275l0-0.4 1 0.1 4 1.1 30 11.7 56 23.8 12.2 5.7 19 10 30.8 19.5 26.8 14.5 20.2 11.9 11 5.5 18 6.9 32 9.1 31 6.2 39 5.3 48 4.5 32 1 64-2.4 57-4.1 40-4.4 42-7.5 0 32-614 0 0-150z"/>
<path fill="#ff3200" fill-rule="evenodd" d="M1151.4 12l366.6 0 0 110.2-102-0.4-57-2.9-13-1.3-12-2.2-36-9.6-20-6.3-15-5.9-18.4-8.6-14.1-8-12.5-9.3-37-32.7-16-12.4-10.2-6.6-2.2-2-1.2-2zM904 277l0-0.5 1 0.1 4 1.1 25 9.9 64 27.9 26 13.7 31.6 19.8 25.4 13.2 22 12.6 10 4.9 17 6.7 36 10.2 31 6.1 39 5 47 4.1 32 0.6 64-2.2 59-4.2 39-4.4 41-7.4 0 30.8-614 0 0-148z"/>
<path fill="#ff1700" fill-rule="evenodd" d="M1156.6 12l361.4 0 0 108.1-102-0.5-55-2.6-14-1.4-12-2.1-34-9.1-21-6.9-15-5.9-18.3-8.6-14-8-11.7-8.6-34.2-30.4-19.8-15.6-8-5.4-2.4-3zM904 279l0-0.7 4 1 19.4 7.7 64 28 30.6 16.5 32 19.9 24 12 22 12.2 12 5.9 16 6.3 40 11.3 31 5.8 39 4.8 45 3.5 33 0.3 64-2.3 58-4 39-4.4 41-7.4 0 29.6-614 0 0-146z"/>
<path fill="#ff0400" fill-rule="evenodd" d="M1161.9 12l356.1 0 0 106-102-0.6-53-2.4-15-1.4-13-2.2-31.2-8.4-21.8-7.4-16-6.5-18-8.5-13-7.5-13-9.7-32-28.6-26.7-20.8-1.4-2zM904 281l0-0.8 3 0.6 13 5.2 46.4 20 21.7 10 32.1 18 31.8 19.5 25 12.2 22 11.8 12 5.8 16 6.3 42 11.8 31 5.6 39 4.6 43 3 34-0.1 64-2.2 58-3.8 38-4.3 42-7.5 0 28.3-614 0 0-144z"/>
<path fill="#ff0100" fill-rule="evenodd" d="M1167.3 12l350.7 0 0 103.8-101-0.7-51-2-14-1.2-14-2.2-12.4-2.7-14.1-4-15.7-5-23.4-9-19.6-9-13.8-7.8-15.3-11.2-30.7-27.6-19.7-15.4-4.6-4-1.4-2zM904 283l0-0.9 1 0.1 7.7 2.8 70.1 31 36.5 21 30.7 18.7 26 12.3 33 16.7 17 6.8 43 12 14 2.9 18 2.8 39 4.3 42 2.5 34-0.3 67-2.3 57-3.8 37-4.1 41-7.5 0 27-614 0 0-142z"/>
<path fill="#ff0000" fill-rule="evenodd" d="M1172.6 12l345.4 0 0 101.1-49-0.1-15-1.1-12 0.8-22-0.1-47.7-1.6-17.3-1.3-11-2.2-9-1-18-4.5-19-6-22.9-9-19.6-9-13.7-8-16.3-12-31.5-28-18.1-14-3.3-4zM904 285l0-0.8 2 0.4 8.6 3.4 64 29 11 6 58.4 35.6 26.8 12.4 31.2 15.5 9 3.9 10 3.2 46 12.7 31 5.2 42 4.3 36 1.8 41-0.7 74-2.6 54-3.9 33-4 36-6.8 0 25.4-614 0 0-140z"/>
<path fill="#ffffff" fill-rule="evenodd" d="M1172.6 12l345.4 0 0 101.1-49-0.1-15-1.1-12 0.8-22-0.1-47.7-1.6-17.3-1.3-11-2.2-9-1-18-4.5-19-6-22.9-9-19.6-9-13.7-8-16.3-12-31.5-28-18.1-14-3.3-4zM904 285l0-0.8 2 0.4 8.6 3.4 64 29 11 6 58.4 35.6 26.8 12.4 31.2 15.5 9 3.9 10 3.2 46 12.7 31 5.2 42 4.3 36 1.8 41-0.7 74-2.6 54-3.9 33-4 36-6.8 0 25.4-614 0 0-140z"/>
</g>
<g clip-path="url(#clipD)" fill="none" stroke="#333" stroke-width="2.9" stroke-linejoin="round">
<path d="M904,110C905.1,109.7 905.7,110.1 910.5,108.1C915.3,106.1 924.5,100.6 932.7,98C941,95.4 951.1,93.6 960,92.5C968.9,91.4 977,90.8 986.3,91.5C995.6,92.2 1007,94.4 1016,97C1025,99.6 1033,103.8 1040,107.1C1047,110.4 1052,113.5 1058,117C1064,120.5 1070.1,124 1076.1,127.9C1082.1,131.8 1088.1,136.3 1094.1,140.5C1100.1,144.7 1106.1,149 1112.1,153.1C1118.1,157.2 1124.2,160.9 1130.2,164.8C1136.2,168.7 1141.6,172.8 1148.2,176.6C1154.8,180.4 1162.8,184.5 1169.7,187.8C1176.6,191.2 1182.9,193.7 1189.5,196.7C1196.1,199.7 1202.8,202.4 1209.4,205.6C1216,208.8 1223.4,212.4 1229.2,215.6C1235,218.8 1240.5,221.2 1244.1,224.5C1247.6,227.8 1250,232.1 1250.5,235.4C1251,238.7 1249.3,241.7 1247.1,244.3C1244.9,247 1241.7,249.6 1237.1,251.3C1232.5,253 1225.6,254.5 1219.3,254.7C1213,254.9 1206,253.9 1199.4,252.3C1192.8,250.7 1186.2,248.1 1179.6,245.3C1173,242.5 1166.4,238.4 1159.8,235.4C1153.2,232.4 1144.9,229.4 1139.9,227.5C1134.9,225.6 1135.8,226 1130,224C1124.2,222 1111.7,217.4 1105,215.5C1098.3,213.6 1098.5,213.2 1089.8,212.5C1081.1,211.8 1065.3,211.5 1053,211C1040.7,210.5 1028.3,210.8 1016,209.5C1003.7,208.2 991.3,206.2 979,203.5C966.7,200.8 953.4,197 942,193.1C930.6,189.2 916.8,182.8 910.5,180.2C904.2,177.6 905.1,178.2 904,177.8"/>
<path d="M1312.2,246.7C1313.7,242.3 1313.9,240.2 1320.3,236.5C1326.7,232.8 1338.9,227.1 1350.7,224.4C1362.5,221.7 1377.8,220.8 1391.3,220.3C1404.8,219.8 1418.4,220 1431.9,221.3C1445.4,222.7 1462.3,225.5 1472.5,228.4C1482.7,231.3 1488.7,234.5 1492.8,238.6C1496.9,242.7 1497.2,247.1 1496.9,252.8C1496.6,258.6 1493.2,266.7 1490.8,273.1C1488.4,279.5 1485.4,285.2 1482.7,291.3C1480,297.4 1479.6,303.9 1474.5,309.6C1469.4,315.4 1462.7,321.1 1452.2,325.8C1441.7,330.5 1425.1,335.1 1411.6,338C1398.1,340.9 1384.5,342.6 1371,343.1C1357.5,343.6 1342.2,342 1330.4,341.1C1318.6,340.2 1308.8,339 1300,338C1291.2,337 1285,336.7 1277.5,335C1270,333.3 1260.8,330.4 1255.2,327.9C1249.6,325.3 1245.7,322.4 1244,319.7C1242.3,317 1242.5,314.3 1245,311.6C1247.5,308.9 1252.2,306.9 1259.3,303.5C1266.4,300.1 1279.6,295.4 1287.7,291.3C1295.8,287.2 1304,283.7 1308,279C1312,274.3 1310.8,268.4 1311.5,263C1312.2,257.6 1310.7,251.1 1312.2,246.7Z"/>
<path d="M954.9,147.9C955.8,145.9 957.1,142.9 960.5,141.4C963.9,139.9 970.3,138.9 975.2,139.2C980.1,139.5 986,141 990,143.2C994,145.4 998.1,149.4 999.3,152.5C1000.5,155.6 999.6,159.4 997.4,161.7C995.2,164 990.9,165.7 986.3,166.3C981.7,166.9 974.3,166.5 969.7,165.4C965.1,164.3 961.1,161.9 958.6,159.9C956.1,157.9 955.5,155.4 954.9,153.4C954.3,151.4 954,149.9 954.9,147.9Z"/>
<path d="M904,77C905.1,76.8 905.7,77.1 910.5,75.8C915.3,74.5 924.5,71.1 932.7,69.3C941,67.5 951.1,65.8 960,65C968.9,64.2 977,64 986.3,64.7C995.6,65.4 1006.2,66.8 1016,69.3C1025.8,71.8 1035.7,76 1045,79.5C1054.3,83 1063.4,86.3 1071.6,90C1079.8,93.7 1087.3,98 1094.1,101.7C1100.8,105.5 1106.1,109 1112.1,112.5C1118.1,116 1124.2,119.2 1130.2,122.5C1136.2,125.8 1142.9,129.2 1148.2,132.4C1153.5,135.7 1155.1,137.4 1162,142C1168.9,146.6 1181.6,155.3 1189.5,160C1197.4,164.7 1202.8,167.1 1209.4,169.9C1216,172.7 1222.6,174.8 1229.2,176.9C1235.8,179.1 1242.4,180.8 1249,182.8C1255.6,184.8 1262.9,187.4 1268.9,188.8C1274.9,190.2 1278.2,190.5 1285,191.5C1291.8,192.5 1300.2,194.2 1310,195C1319.8,195.8 1328.5,196.3 1343.8,196.2C1359.1,196.1 1382.5,194.2 1401.9,194.2C1421.3,194.2 1441.8,195.1 1460.1,196.2C1478.4,197.3 1502.3,200 1512,201C1521.7,202 1517,201.8 1518,202"/>
<path d="M904,53C905.1,52.8 904.2,53.3 910.5,51.7C916.8,50.1 930.6,45.2 942,43.4C953.4,41.6 966.7,40.7 979,40.7C991.3,40.7 1003.7,41.2 1016,43.4C1028.3,45.5 1040.7,49.6 1053,53.6C1065.3,57.6 1080.8,63.6 1089.8,67.5C1098.8,71.4 1101,73.2 1107,77C1113,80.8 1120.3,86.3 1125.7,90C1131.1,93.7 1133.5,95.1 1139.2,99C1144.9,102.9 1151.8,108.2 1160,113.4C1168.2,118.6 1178.9,124.7 1188.2,130.3C1197.5,135.9 1206.7,142 1215.9,146.9C1225.1,151.8 1234.3,156.2 1243.6,159.9C1252.8,163.6 1261.2,166.4 1271.4,169.1C1281.6,171.8 1294.5,174.4 1305,175.8C1315.5,177.2 1317.9,177.5 1334.1,177.8C1350.2,178.1 1380.9,177.7 1401.9,177.8C1422.9,178 1441.8,178.2 1460.1,178.7C1478.4,179.2 1502.3,180.3 1512,180.7C1521.7,181.1 1517,180.9 1518,181"/>
<path d="M904,34.5C905.1,34.3 904.2,34.7 910.5,33.3C916.8,31.9 930.6,27.8 942,25.9C953.4,24 966.7,22.6 979,22.2C991.3,21.8 1003.7,22.1 1016,23.5C1028.3,24.9 1040.7,27.3 1053,30.5C1065.3,33.7 1080.8,38.8 1089.8,42.5C1098.8,46.2 1099.8,48.6 1107,52.5C1114.2,56.4 1123.8,60 1132.7,65.6C1141.6,71.2 1151.2,78.8 1160.5,85.9C1169.8,93 1179.6,101.6 1188.2,108.1C1196.8,114.6 1203.9,119.6 1212.2,124.8C1220.5,130 1228.8,135.5 1238.1,139.5C1247.3,143.5 1259.1,146.3 1267.7,148.8C1276.3,151.3 1283.6,152.7 1289.8,154.3C1296,155.9 1297.6,157.2 1305,158.4C1312.4,159.6 1321.2,160.6 1334.1,161.3C1347,162 1361.5,162.4 1382.5,162.8C1403.5,163.2 1438.5,163.4 1460.1,163.6C1481.7,163.8 1502.3,164.1 1512,164.2C1521.7,164.3 1517,164.3 1518,164.3"/>
<path d="M1058,12C1059.6,12.9 1062.4,15.3 1067.7,17.5C1073,19.7 1083.2,22.5 1089.8,25C1096.3,27.5 1099.8,28.9 1107,32.3C1114.2,35.7 1123.8,39.8 1132.7,45.3C1141.6,50.8 1152.2,58.8 1160.5,65.6C1168.8,72.4 1175.2,79.4 1182.6,85.9C1190,92.4 1196.8,98.5 1204.8,104.4C1212.8,110.3 1222.1,116.8 1230.7,121.1C1239.3,125.4 1248,127.9 1256.6,130.3C1265.2,132.8 1273.8,134 1282.4,135.8C1291,137.6 1299.4,139.3 1308,141C1316.6,142.7 1321.7,144.5 1334.1,145.8C1346.5,147.1 1364.7,148 1382.5,148.7C1400.3,149.4 1419.1,149.8 1440.7,150C1462.3,150.2 1499.1,150 1512,150C1524.9,150 1517,150 1518,150"/>
<path d="M1110,12C1111,13.2 1110.8,16 1116.1,19.4C1121.4,22.8 1133.7,27.4 1142,32.3C1150.3,37.2 1158.3,42.8 1166,49C1173.7,55.2 1181.1,63.1 1188.2,69.3C1195.3,75.5 1201.4,80.7 1208.5,85.9C1215.6,91.1 1223.3,96.4 1230.7,100.7C1238.1,105 1244.6,108.4 1252.9,111.8C1261.2,115.2 1271.6,118.5 1280.6,121.1C1289.6,123.7 1298.1,125.5 1307,127.5C1315.9,129.5 1324.7,131.8 1334.1,133.2C1343.5,134.6 1348.7,135.4 1363.2,136.1C1377.7,136.8 1396.5,137.3 1421.3,137.6C1446.1,137.9 1495.9,137.9 1512,138C1528.1,138.1 1517,138 1518,138"/>
<path d="M1140,12C1141,12.9 1141.4,14.4 1145.7,17.5C1150,20.6 1158.9,25.2 1166,30.5C1173.1,35.8 1181.4,43.1 1188.2,49C1195,54.9 1200.6,60.4 1206.7,65.6C1212.8,70.8 1218,75.8 1225.1,80.4C1232.2,85 1241.5,89.6 1249.2,93.3C1256.9,97 1264.6,100.1 1271.4,102.6C1278.2,105.1 1283.9,106.4 1289.8,108.1C1295.7,109.8 1298,110.5 1307,112.7C1316,114.9 1331.2,119.5 1343.8,121.5C1356.4,123.5 1369.6,123.6 1382.5,124.4C1395.4,125.2 1399.7,126.1 1421.3,126.4C1442.9,126.7 1495.9,126.4 1512,126.4C1528.1,126.4 1517,126.4 1518,126.4"/>
<path d="M1171,12C1172,12.9 1173.6,14.7 1177.1,17.5C1180.6,20.3 1186.7,24.3 1191.9,28.6C1197.1,32.9 1202.7,38.2 1208.5,43.4C1214.3,48.6 1220.8,55.1 1227,60C1233.2,64.9 1238.7,69 1245.5,73C1252.3,77 1260.3,80.7 1267.7,84.1C1275.1,87.5 1283.2,90.7 1289.8,93.3C1296.3,95.9 1299.6,97.2 1307,99.5C1314.4,101.8 1324.7,105.1 1334.1,107C1343.5,108.9 1350.3,109.9 1363.2,110.9C1376.1,111.9 1395.4,112.4 1411.6,112.8C1427.8,113.2 1443.4,113 1460.1,113.2C1476.8,113.4 1502.3,113.7 1512,113.8C1521.7,113.9 1517,113.8 1518,113.8"/>
<path d="M904,206.5C905.1,206.8 906.5,206.6 910.5,208C914.5,209.4 919.5,212.5 927.7,215C936,217.5 948,220.4 960,223C972,225.6 983.5,228.5 999.6,230.5C1015.7,232.5 1040.6,233.5 1056.4,235C1072.2,236.5 1086.2,238.3 1094.3,239.6C1102.4,240.9 1099.2,240.4 1105,242.6C1110.8,244.8 1122,248.4 1129.4,252.8C1136.9,257.2 1144.3,262.6 1149.7,269C1155.1,275.4 1158.1,283.2 1161.8,291.3C1165.5,299.4 1167.9,310.6 1172,317.7C1176.1,324.8 1180.5,329.3 1186.2,334C1192,338.7 1198,342.7 1206.5,346.1C1215,349.5 1226.8,352.1 1236.9,354.3C1247.1,356.5 1256.9,358.3 1267.4,359.3C1277.9,360.3 1284.4,360.5 1300,360.3C1315.6,360.1 1340.6,359.5 1360.9,358.3C1381.2,357.1 1403.2,355.9 1421.8,353.2C1440.4,350.5 1457.3,346.5 1472.5,342.1C1487.7,337.7 1505.5,329.8 1513.1,326.9C1520.7,324 1517.2,325.3 1518,325"/>
<path d="M904,222.5C905.1,222.7 904.2,221.3 910.7,223.5C917.2,225.7 931.2,232.3 942.9,235.8C954.6,239.3 968.1,242.2 980.7,244.3C993.3,246.4 1006,247.2 1018.6,248.1C1031.2,249 1045.4,248.9 1056.4,250C1067.4,251.1 1076.5,252.4 1084.8,254.8C1093.1,257.2 1099.9,260.8 1106,264.5C1112.1,268.2 1117,271.6 1121.2,277.1C1125.4,282.6 1128.4,290.6 1131.4,297.4C1134.5,304.2 1136.1,310.9 1139.5,317.7C1142.9,324.5 1145.6,331.6 1151.7,338C1157.8,344.4 1166.9,351.6 1176,356.3C1185.1,361 1194.7,363.7 1206.5,366.4C1218.3,369.1 1231.5,371.1 1247.1,372.5C1262.7,373.9 1281,374.5 1300,374.5C1319,374.5 1340.6,373.5 1360.9,372.5C1381.2,371.5 1403.2,370.5 1421.8,368.5C1440.4,366.5 1457.3,363.5 1472.5,360.3C1487.7,357.1 1505.5,351.3 1513.1,349.2C1520.7,347.1 1517.2,347.8 1518,347.5"/>
<path d="M904,236.5C905.1,236.7 904.2,235.9 910.7,237.7C917.2,239.5 931.2,244 942.9,247.2C954.6,250.3 968.1,254.1 980.7,256.6C993.3,259.1 1006,260.9 1018.6,262.3C1031.2,263.7 1045.4,263.6 1056.4,265.2C1067.4,266.8 1077.5,268.8 1084.8,271.8C1092.1,274.8 1096.5,278.6 1100,283C1103.5,287.4 1104.2,292.9 1106,298C1107.8,303.1 1108.6,308.1 1111.1,313.7C1113.6,319.3 1116.5,325.8 1121.2,331.9C1125.9,338 1132,344.8 1139.5,350.2C1147,355.6 1154.7,360.3 1165.9,364.4C1177.1,368.4 1191.3,371.4 1206.5,374.5C1221.7,377.6 1241.6,380.8 1257.2,382.7C1272.8,384.6 1282.7,385.5 1300,385.7C1317.3,385.9 1340.6,384.7 1360.9,383.7C1381.2,382.7 1403.2,381.5 1421.8,379.6C1440.4,377.7 1457.3,375.4 1472.5,372.5C1487.7,369.6 1505.5,364.3 1513.1,362.4C1520.7,360.5 1517.2,361.2 1518,361"/>
<path d="M904,249C905.1,249.2 904.2,248.1 910.7,250C917.2,251.9 931.2,257.1 942.9,260.4C954.6,263.7 968.7,267.1 980.7,269.9C992.8,272.7 1003.6,275.4 1015.2,277C1026.8,278.6 1041.5,277.6 1050.3,279.4C1059.1,281.2 1063.6,284.3 1067.9,287.6C1072.2,290.9 1073.8,294.8 1076.1,299.3C1078.4,303.8 1080,309.6 1082,314.5C1084,319.4 1085.4,324.3 1087.9,328.6C1090.4,332.9 1093.7,336.8 1097.2,340.3C1100.7,343.8 1104.3,346.4 1109,349.7C1113.7,353 1117.5,356.5 1125.3,360.3C1133.1,364.1 1143.9,368.8 1155.7,372.5C1167.5,376.2 1181.1,379.6 1196.3,382.7C1211.5,385.8 1229.8,388.6 1247.1,390.8C1264.4,393 1281,395.4 1300,395.9C1319,396.4 1340.6,395 1360.9,393.8C1381.2,392.6 1403.2,390.8 1421.8,388.8C1440.4,386.8 1457.3,384.1 1472.5,381.7C1487.7,379.3 1505.5,375.9 1513.1,374.5C1520.7,373.1 1517.2,373.7 1518,373.5"/>
<path d="M904,260C905.1,260.2 904.2,259.4 910.7,261.4C917.2,263.4 931.4,267.8 942.9,271.8C954.4,275.8 969.9,281.6 980,285.2C990.1,288.8 995.2,290.6 1003.4,293.4C1011.6,296.1 1022.8,298.9 1029.2,301.7C1035.7,304.4 1037.6,306.4 1042.1,309.9C1046.6,313.4 1051.3,318.3 1056.2,322.8C1061.1,327.3 1066.5,332.9 1071.4,336.8C1076.3,340.7 1080.2,342.9 1085.5,346.2C1090.8,349.5 1097.3,353.1 1103.1,356.8C1108.8,360.5 1116.3,366.2 1120,368.5C1123.7,370.8 1119.3,368.5 1125.3,370.5C1131.2,372.5 1143.9,377.4 1155.7,380.6C1167.5,383.8 1181.1,387.1 1196.3,389.8C1211.5,392.5 1229.8,394.7 1247.1,396.9C1264.4,399.1 1281,402.3 1300,403C1319,403.7 1340.6,401.9 1360.9,400.9C1381.2,399.9 1403.2,398.6 1421.8,396.9C1440.4,395.2 1457.3,393 1472.5,390.8C1487.7,388.6 1505.5,385.1 1513.1,383.7C1520.7,382.3 1517.2,382.7 1518,382.5"/>
<path d="M904,272.5C905.1,272.9 904.2,272.2 910.7,274.6C917.2,277 931.4,282.2 942.9,286.9C954.4,291.6 969.9,298.6 980,302.8C990.1,307 995.6,308.7 1003.4,312.2C1011.2,315.7 1020.1,320 1026.9,323.9C1033.8,327.8 1038.6,331.9 1044.5,335.6C1050.4,339.3 1055.3,342.3 1062.1,346.2C1068.9,350.1 1077.7,354.6 1085.5,359.1C1093.3,363.6 1100.7,369.1 1109,373.2C1117.3,377.3 1124.2,380.4 1135.4,384C1146.6,387.6 1160.8,391.6 1176,394.8C1191.2,398 1206.1,400.4 1226.8,403C1247.5,405.6 1277.7,409.1 1300,410.1C1322.3,411.1 1340.6,409.9 1360.9,409C1381.2,408.1 1403.2,406.5 1421.8,405C1440.4,403.5 1457.3,401.9 1472.5,399.9C1487.7,397.9 1505.5,394.2 1513.1,392.8C1520.7,391.4 1517.2,391.7 1518,391.5"/>
<path d="M904,283.5C905.1,283.9 904.2,283.2 910.7,286C917.2,288.8 931.4,295.1 942.9,300.2C954.4,305.3 969.9,311.8 980,316.9C990.1,322 995.6,326.3 1003.4,331C1011.2,335.7 1019.1,340.3 1026.9,345C1034.7,349.7 1042.5,355 1050.3,359.1C1058.1,363.2 1066,365.9 1073.8,369.6C1081.6,373.3 1089.5,377.8 1097.2,381.4C1104.9,385 1113.6,389.1 1120,391.5C1126.4,393.9 1126.1,393.4 1135.4,396C1144.7,398.6 1160.8,404 1176,407C1191.2,410 1209.9,412.4 1226.8,414.1C1243.7,415.8 1265.3,416.8 1277.5,417.2C1289.7,417.6 1286.1,417.1 1300,416.8C1313.9,416.5 1340.6,415.9 1360.9,415.1C1381.2,414.3 1403.2,413.5 1421.8,412.1C1440.4,410.8 1457.3,409 1472.5,407C1487.7,405 1505.5,401.3 1513.1,399.9C1520.7,398.5 1517.2,398.7 1518,398.5"/>
</g>
<line x1="975.5" y1="154.5" x2="1388.5" y2="306.8" stroke="#fff" stroke-width="4.2" stroke-dasharray="9 6.5"/>
<g clip-path="url(#clipE)">
<rect x="904" y="579" width="614" height="415" fill="#000000"/>
<path fill="#0008fd" fill-rule="evenodd" d="M904 579l614 0 0 415-614 0 0-415zM969 718.8l-4 1.5-5 3.6-2.7 3.1-1.9 4-1.7 7-0.6 7 0.4 5 2 7 2 4 2.5 3.2 4 3.3 4 2.2 7 3.1 4 1 4-0.1 5-1.2 4-1.9 3.3-2.6 3.1-4 1.9-4 1-4 0.2-5-0.7-5-1.2-4-4.1-9-2.5-3.4-3-2.9-5-3.1-7-3.4-5-1.4-4 0z"/>
<path fill="#0019fe" fill-rule="evenodd" d="M904 579l614 0 0 415-614 0 0-415zM959 688.7l-3.7 5.3-2.8 2-4.5 1-18 1.2-3.5 1.8-1.5 2.9-3.2 45.1 3.9 23 4.4 14 2.9 5 3 3 15 6.9 8 5.5 3 0.9 27-3 9-2.2 8.8-3.1 3.2-2 2.9-4 10.6-24 7.3-13 1.3-5-1.1-4-7.6-14-10.4-24-2-3.2-2-2-7-3.9-9-3.4-21-4-9-3.3-2-0.2-2 0.7z"/>
<path fill="#002afe" fill-rule="evenodd" d="M904 579l614 0 0 415-614 0 0-233.6 2 1.4 2 3.1 10 21.1 6.9 9 3.2 6 2.9 3 6 3.3 3.1 2.7 5.3 11 3.5 5 2.7 2 3.4 1.4 11 2.7 5 0.5 4-0.8 7-3.2 4-1.1 23-1.6 6-1.1 10-4.8 9-6.5 3.2-3.5 1.8-3 12-30 7.8-13 2.2-7 0.8-7-0.4-5-1.7-5-2.3-4-7.8-10-12.3-31-2.3-4-4.3-5-8.7-8.9-5-3.5-4-1.2-17-2.3-5-1.2-3.5-1.9-8.5-7.2-6-2.7-7-1.8-5-0.3-7 1.2-5 2.3-4.5 3.5-1.7 3 0.2 5 2.6 12-0.1 2-1 2-3.5 1.6-9 0.5-5-0.3-8-2.1-2.6 0.3-2.4 2-8 11.3-2 1.8 0-122.1z"/>
<path fill="#003bff" fill-rule="evenodd" d="M904 579l614 0 0 415-614 0 0-207.6 2 1 8 7 4.1 4.6 4.6 12 3.6 7 6.5 17 4.2 7.7 4 5.3 4 2.7 6 1.7 25 6.1 4 0.5 3-0.4 5-2.1 11-6.1 13-4.5 18-9.9 18.4-12 12.2-10 3.3-4 5.1-8.4 8.6-10.6 4.5-8 2.9-8 2.5-10 1.6-9 0.5-8-0.4-6-1.3-6-2.4-7-3-6-6.5-9-12-12.5-7.6-11.5-17.3-17-20.1-21.3-3-2.3-7.7-4.4-13.3-12.4-7.3-4.6-15.7-4.4-7-1.1-12 1.3-6 1.6-3.7 1.6-4.4 3-8.9 7.6-2 2.3-0.8 2.1 0.8 6 8.3 22 0.7 4-0.7 3-3.3 1.6-8 0.2-5-1.5-10-5.6-2-0.5-4 0.4 0-92.6z"/>
<path fill="#004eff" fill-rule="evenodd" d="M904 579l614 0 0 415-614 0 0-198.3 3 0.9 3 2.1 4.3 5.3 2 5 6.7 21.9 4 10.4 6 11.2 8 11.4 7 7.1 8 4.8 8 2.1 7-0.6 9-3.3 12.2-6 46.2-27 22.2-15 13.9-12 10.5-12 4-6 3-6 3-8.7 4.1-15.3 1.9-10.8 0.5-8.2-1.2-11-3.2-10-5.1-9.8-6.9-9.2-8.5-9-30.6-29.1-37.9-40.9-10.6-9-10.5-6.1-10-3.1-6-0.6-7 0.1-7 0.8-7 1.5-6 2.1-5 2.5-6 4.2-5 5.1-5.1 7.5-3.1 7 0.4 3 4.9 10 3.1 8 0.7 4-0.8 3-3.1 1.6-5 0-4-1.6-7-4.6-5-0.9 0-83.5z"/>
<path fill="#0060ff" fill-rule="evenodd" d="M904 579l614 0 0 415-614 0 0-192 4 1.9 3.1 4.1 2.1 5 7.4 24 3.4 8.6 7 12.9 8 11.1 8 7.7 4 2.6 5 2.4 5 1.5 4 0.5 8-1 8-3.1 13-6.6 48-28.4 23-15.5 13.5-11.7 6.3-7 5.2-6.7 4-6.3 2.9-6 7.9-27 1.8-10 0.6-8-1.1-11-2.9-10-5.7-11-8.2-11-11.3-11.8-29-27.2-29.9-33-7.9-8-12-10-11.2-6.4-5-1.8-6-1.4-7-0.6-7 0.1-12 2-6 2.1-5 2.6-6 4.2-6 5.9-4.1 5.3-6.9 11.4-4.3 4.6-1.2 2-0.6 2 0.1 2.7 1 0.1 2-1.3 2-0.4 1.7 0.9 1.3 1.6 1.8 5.4 0 2-0.8 1.8-2 1.3-2 0.1-3-1.1-4-2.7-5 1 0-78.4z"/>
<path fill="#0074ff" fill-rule="evenodd" d="M904 579l614 0 0 415-614 0 0-183.2 2.7 2.2 2.3 4.3 9.8 27.7 4.4 10 7.1 12 7.7 9.9 4.2 4.1 4.8 3.6 10 5 5 1.3 5 0.4 5-0.4 5-1.3 8-3.3 13-6.8 48-29.1 23-15.7 8-6.4 6-5.7 6-6.9 5.8-7.7 4.5-7 2.9-6 9-31 1.8-9 0.5-8-1-12-3.2-11-5.7-11-8.9-12-14.7-15.3-25.5-23.7-22.9-25-17.6-17.4-11.6-9.6-11.4-6.7-5-2-6-1.6-13-1-13 1.3-6 1.7-5 2.1-7 4.5-7 6.5-5.6 7.2-7.4 12-7 6-3 5.6-2 2.4 0-69z"/>
<path fill="#008aff" fill-rule="evenodd" d="M904 579l614 0 0 415-614 0 0-164.9 2 1.5 3 5.1 9 22.9 5.2 10.4 7.6 11 8.2 8.4 6 4.6 7 4.3 5 2.4 6 2 8 1.5 7 0.5 5-0.7 5-1.6 9-4 8.1-4.4 48.9-33.4 24-17.9 7.5-6.7 6.6-7 11.9-15.6 4.4-7.4 3.3-7 9.3-33 1.9-10 0.5-9-0.4-8-1.2-8-1.8-6.7-2.4-6.3-3.6-7.2-4.8-7.8-12.2-15.8-15-16-27.4-26.2-14.1-15-3.5-2.2-7-2.7-4-2.2-15.9-13.9-7.5-5-7.6-4.2-11-3.9-13-1.4-15 1.1-6 1.4-6 2.2-8 4.5-7 6-6.7 8.3-8.3 14-10 8.3 0-60.3z"/>
<path fill="#009fff" fill-rule="evenodd" d="M904 579l614 0 0 415-614 0 0-147.3 2 1.6 2 3.2 9 21.5 6.6 11 4.4 5.3 6 5.9 15 12.2 6 3.6 7 3.2 9 3.2 7 1.7 5 0.1 5-0.7 13-4.4 9-4.4 6-3.8 60-46.4 15.1-13.5 12.9-14.5 6.3-8.5 5.7-8.9 4-7.5 3-7.3 5.8-20.3 3-13 1.9-11 0.6-9-1.1-15-3-13-5.5-13-8-14-11.7-15.8-15-17.3-18.2-17.9-9.8-8.5-12-12.1-5-2.5-19-5.9-17-11.6-9-5-8-3.5-6-1.7-7-1-7-0.3-9 0.5-8 1.1-8 2.2-8 3.4-7 4.5-6.2 5.4-6.1 7-4.2 6-6.5 11.4-3 2.6-2 0.8 0-13.4 2-2 0.6-3.4-0.6-3.1-2-3 0-28.9z"/>
<path fill="#00b5ff" fill-rule="evenodd" d="M1024.8 580l0.3-1 492.9 0 0 415-614 0 0-129.6 3 3.1 7.5 16.5 5.5 8.6 18 18.5 10 8.5 7 4.5 8 4.3 7 3.2 7 2.4 5 0.8 5 0 12-2.2 14-5.5 7-3.6 5-3.3 60-51.5 9-8.6 14-15.4 13-17.5 8.7-15.2 5.7-15 4.3-16 4-20 1.2-9 0.3-10-1.1-13-2.2-11-3.9-12-5.5-12-9.5-16.3-12-16.8-15-17.8-15-14.6-10-7.8-8.7-8.7-3.3-2.4-5-2-25-7.4-4-1.9-2.7-2.3-2.6-4-1.4-4 0.4-1 4.3-4.1 1.8-2.9z"/>
<path fill="#00ccff" fill-rule="evenodd" d="M1049.6 579l468.4 0 0 415-614 0 0-111.8 3 3.2 4.5 8.6 3.3 5 19.2 21.7 11 10.1 13 9.1 13 7 6 2.1 5 1.1 6 0.4 7-0.5 14-3.2 16-6.8 6-3.4 4.9-3.6 62.1-59.3 15-16.8 15-20 9.5-15.9 7-16 3.3-11 3.1-13 4.2-23 1-12-0.5-14-1.7-12-3.1-12-4.8-13-7.6-16-10.8-18-13.6-18.9-12-14-11-10.4-11-8-9-8-5-2.4-14-4.5-4.5-2.8-0.8-3 2.9-10z"/>
<path fill="#00e3ff" fill-rule="evenodd" d="M1070 579l448 0 0 415-614 0 0-94.1 3 2.4 10 11.8 11.6 14.9 8.4 8.8 14 11.7 15 9.8 12 5 5 1.1 6 0.6 14-0.9 15-3.8 9-3.5 8-4 6-3.6 5.4-4.2 14.6-14.8 44-46.6 16-19.1 15.8-21.5 9-15 7.5-16 3.9-11 3.3-13 5.2-29 1.1-11 0-14-1.3-13-2.6-13-4.3-14-6.6-16-9.2-18-9.6-16-11.4-16-9.8-11.7-11-10.3-13-9-7-5.5-7-3.6-2.7-1.9-1.3-3 0-5z"/>
<path fill="#00f1f8" fill-rule="evenodd" d="M1091.9 579l426.1 0 0 415-614 0 0-78.4 2 0.9 3 2.7 14.7 19.8 13.3 13.8 18 14.7 7 4.6 6 3.2 7 2.4 9 1.9 7 0.9 7 0.2 13.4-1.7 22.6-5.7 7-3.1 7-3.8 6-4.1 5-4.4 13.5-14.9 41.5-48 15.7-20 15.6-22 8.1-13 8-16 5.3-13 3.9-13 7.5-44 0.5-15-0.8-14-2-13-3.2-13-6-18-7.8-18-10.3-20-9.8-16-9.3-13-7.8-9-10.6-9.5-15.8-11.5-2.5-3-0.8-2z"/>
<path fill="#00f6ea" fill-rule="evenodd" d="M1127.5 579l390.5 0 0 415-614 0 0-53.8 3 1.7 7.5 8.1 28.5 27.5 6 3.9 7.6 2.6 36.4 5.5 7 0.5 18-2.4 37-3 8.7-1.6 6.3-2.4 4.3-2.6 3.7-3 15.7-17 17.3-12 7-8 18-25.3 26.5-48.7 8.1-16 8.6-20 5.2-14 3.2-12 6.2-35 1.5-12 0.8-20-1.1-18-3.2-18-5.6-20-11.2-29.2-9.5-21.8-7.5-13.2-10.5-15.8-5.6-6-11.8-10-1.7-2-0.9-2z"/>
<path fill="#00fbdb" fill-rule="evenodd" d="M1163.1 579l354.9 0 0 415-419.8 0 2-3 3.8-3 27-17.1 6-4.8 11-14.1 11.6-20 3.9-9 11-31 14.1-36 12.6-34 4.6-18 5.5-32 2.6-25 0.4-21-1.9-21-4.2-21-5-17-17.2-49.5-4.7-9.5-10.3-17.8-7.1-9.2-0.8-2zM904 962l0-0.5 1 0.2 3 1.6 6.6 5.7 15.4 18 4 2.3 11.8 3.7 1.6 1-43.4 0 0-32z"/>
<path fill="#00fec8" fill-rule="evenodd" d="M1190 579l328 0 0 415-365.2 0 0.7-3 1.6-3 12-16 5.9-9.7 6.9-14.3 4.9-13 10.9-44 11.8-37 9-26 3.4-12 7.6-40 3.1-25 1-17-0.5-16-2-18-3.6-18-3.7-14-16.1-54-4.7-11.4-9.3-17.6-1.7-6zM904 982l3 1.2 3 3.1 2.3 3.7 1.1 4-9.4 0 0-12z"/>
<path fill="#00fdaf" fill-rule="evenodd" d="M1204.3 579l313.7 0 0 415-346.8 0 1.9-5 8-11 4.9-9.1 6.6-14.9 5.3-15 2.6-10 4.7-24 4.2-16 9.5-31 10.3-30 4.4-16 8.5-39 3.4-26 0.6-14-0.6-13-2.4-17-3.4-16-20.7-73-5.7-15-7.6-15-1.4-5z"/>
<path fill="#00fc96" fill-rule="evenodd" d="M1218.5 579l299.5 0 0 415-328.4 0 0.9-3 5.5-8.9 4.5-10.1 6.2-16 4.3-13.2 2.6-10.8 4.5-26 4.4-18 8.3-28 12.3-36 9.9-37 4.8-22 2.4-21 0.3-12-0.7-11-2-13-3.8-17-21.4-76-5.4-15-7.7-17-1-4z"/>
<path fill="#00fa60" fill-rule="evenodd" d="M1232.7 579l285.3 0 0 415-310 0 0.7-3 11.3-31.2 4.5-14.8 2.3-11 4.5-29 8-32 4.3-14 12.2-35 12.3-41 4.4-20 2.2-20 0.3-11-0.9-11-1.8-11-3.1-13-13-42-10.2-39.3-5.8-16.7-6.5-16-1-4z"/>
<path fill="#00fb42" fill-rule="evenodd" d="M1243.9 579l274.1 0 0 415-297.8 0 1.2-6 9.6-29.8 3.8-14.2 5.8-38 7-30 4.8-16 18.6-53.5 9-30.3 3.1-15.2 1.9-19 0.2-9-0.6-9-1.3-9-2.3-10.3-5.9-20.7-9.8-29-10.3-40.5-10.3-31.5-0.8-4z"/>
<path fill="#00fc27" fill-rule="evenodd" d="M1251.3 579l266.7 0 0 415-291.2 0 1.1-6 8.3-27 4.2-16 6-39 7.1-31 4.9-16 17.6-50.4 9.2-30.6 3.3-16 1.9-19-0.1-18-3-17-6.2-22-12.2-37-17.6-70z"/>
<path fill="#00fe12" fill-rule="evenodd" d="M1258.2 579l259.8 0 0 415-284.9 0 0.8-5 6.9-24 5-20 5.6-37 6.1-28 5.4-19 14.7-41 10.8-34 4.9-21 2.3-21 0-17-2.3-16-6.1-22-10.7-31-5.5-19-7.4-31-5.4-29z"/>
<path fill="#00ff04" fill-rule="evenodd" d="M1263.8 579l254.2 0 0 415-277.4 0 0.8-5 4.9-18 5.2-27 5.2-35 5.4-26 6.9-23.3 15.8-42.7 9.4-28 5.5-26 1.9-19 0-20-2.1-14-6.1-22-11.4-30.8-7-22.9-6.9-28.3-3.4-19-0.9-8z"/>
<path fill="#00ff00" fill-rule="evenodd" d="M1268.5 579l249.5 0 0 415-267.8 0 3.4-17 0.8-18 3.5-19 4.1-30 4.2-21 3.3-12 7.5-22.5 7.7-20.5 6.5-14 10.5-27 6-35 1.3-14-0.1-26-2.1-13-5.1-17-13.7-33.1-7-20.6-8.3-30.3-3.1-16-1.1-9z"/>
<path fill="#00ff00" fill-rule="evenodd" d="M1272.9 579l245.1 0 0 415-258.3 0 0.8-11-0.2-22 6.6-48 3.7-19 4.2-15 13.2-37.1 8.4-15.9 12.9-28 1.4-7 2.6-22 2.6-16 0.6-8-0.1-32-1.7-11-4.6-14-16.5-37-6.1-16-10.4-34-3.1-13.4-1.1-8.6z"/>
<path fill="#00ff00" fill-rule="evenodd" d="M1277.3 579l240.7 0 0 415-250.8 0-0.8-33 5.5-45 3.6-19 3.9-14 12.7-35 2.5-5 7.9-13 14.4-27 1.4-7 5.7-50 0-37-1.2-9-2.8-8-10.3-24-10.6-21-5.9-14-11.9-35-3.1-12-0.9-7z"/>
<path fill="#00ff00" fill-rule="evenodd" d="M1281.8 579l236.2 0 0 415-244.6 0-1-27 0.2-7 4.6-43 4.6-23 3.5-11 11.7-30.5 27.2-43.5 1.4-6 5-40 2.4-6.3 4-4.7 1.7-3 1-4 0.3-4 0-29-0.7-5-1.5-3-5.8-6.7-3.5-5.3-13.3-30-9.2-16.2-5.3-10.8-14.7-38.2-3.2-10.8-1-7z"/>
<path fill="#00ff00" fill-rule="evenodd" d="M1286.2 579l231.8 0 0 415-238.6 0-0.8-32 2.3-29 1.9-17 2.4-13 2.6-10 11.2-30 3.7-7 11.3-17.1 17.5-23.9 1.5-6 3-23.7 2-6.8 2-1.9 2-0.3 17 4.6 3 0 3-1.5 3.1-4.4 19.3-34 1.9-5 0.7-6-0.4-5-1.1-3-2.1-3-4.2-4-31.6-23-4.6-2.7-9-3.7-4-3.7-3-5.2-8.8-19.7-10.2-16-6.7-13-14.9-36-2.5-8-0.7-5z"/>
<path fill="#00ff00" fill-rule="evenodd" d="M1290.7 579l227.3 0 0 167.3-8-1.7-77-23.5-19-4.2-9-5.2-43.5-30.7-4.5-2.2-12.5-3.8-5.5-2.9-4-4.2-7.9-15.9-10.1-14-6.5-11-16.5-36.4-2.4-6.6-0.9-5zM1418 750l2-0.6 3 0.6 47 24.2 11 4.6 22 7.5 2.1 1.7 1.9 2.8 7 18.6 2 4 2 1.9 0 178.7-232.6 0-0.6-36 1.6-25 2-18 2.1-11 2.5-9.4 8.7-22.6 3.7-8 16-23 16.8-19 1.9-5 2.5-15 1-3 1.4-1.9 2-0.8 3 0.3 23 7.6 6 0 5-1.5 1.9-1.7 2.1-3 24-41.4 3-4 3-2.6z"/>
<path fill="#00ff00" fill-rule="evenodd" d="M1295.4 579l222.6 0 0 134.8-7-1.3-50-15.1-17-4.3-16-2.7-22-1.3-5-1-8-4-20.9-14.1-19.1-5.5-9-4.1-3-2.1-3-3.1-5.1-8.2-9-11-6.9-10.1-18.9-37.9-2-5-0.7-4zM1411.2 792l2.8-0.7 3 0.8 35.5 18.9 7.5 5 4 5.1 1.4 3.9 0.7 4 4.2 43 2.7 12 1.7 4 2.3 3.6 15.7 18.4 2.1 4 1.6 5 11.9 75-216.9 0 0.3-8-0.9-21 0.1-13 1.1-20.2 2-16.8 2.1-11 2.3-8 8.6-20.9 4.6-9.1 16.4-21.6 7-7.2 10.4-9.2 1.8-3 2.3-6 1.5-2.1 3-0.7 7 1.8 4 0.4 15-3 11 0.1 3-0.6 3-2.5 9-14.7 3-3.9 2.2-1.8z"/>
<path fill="#00ff00" fill-rule="evenodd" d="M1301.7 579l216.3 0 0 102.6-5-0.8-31.9-8.8-25.8-6-27.3-4-39-2.4-24-5.5-12-4.4-6-3.2-5-3.8-9-8.6-7-8.4-6-9.4-15-28.3-2.4-5-0.9-4zM1380.8 828l5.2-0.2 5 0.5 12 2.9 4 1.6 3.1 2.2 3.9 4 4 5.2 3.4 5.8 6.1 16 11.5 43.1 14.6 44.9 7.7 30 1.6 10-164.1 0 0.2-9-1.2-21-0.1-13 0.6-16 1.5-15 2.1-12 2.1-7.7 10-22.2 5-9.1 6-8 9-9.9 9.3-8.1 7.6-5 7.1-3.7 13.1-4.3 9.7-2z"/>
<path fill="#50f600" fill-rule="evenodd" d="M1315.4 579l202.6 0 0 76.9-69-11.2-57-6.8-18-3.7-14-4.2-8-3.5-6-3.6-5-3.9-5-5.1-6-7.8-7-10.8-6.1-11.3-1.5-5zM1356.4 870l7.6-0.8 7 0.2 7 0.8 5 1.7 5 3.5 6 5.7 5 6 5 7.6 4 8.1 3.2 8.2 7.2 26 5.3 30 3 27-113.7 0-3.6-30-0.6-20 1.6-20 1.6-8.5 2.4-8.5 2.6-6.3 4-6.9 5-6.5 5-5 6-4.7 6-3.4 7-2.7 6.4-1.5z"/>
<path fill="#83f300" fill-rule="evenodd" d="M1316.1 579l201.9 0 0 75.9-69-11-56-6.7-19-3.9-14-4.2-7-3.1-6-3.4-5-3.7-5-4.9-6-7.7-7-10.5-6.4-11.8-1.5-5zM1359.8 871l7.2-0.2 8 0.8 5 1.2 4 1.9 5 3.9 6 5.9 5 6.3 4.4 7.2 3.3 7 3.3 9 6.4 24 5.2 31 2.6 25-111.5 0-3.7-30-0.6-21 1.6-19.4 2-9.6 2.4-8 2.6-6 4.3-7 4.7-5.7 6-5.6 6-4.2 6-3 7-2.2 7.8-1.3z"/>
<path fill="#91f400" fill-rule="evenodd" d="M1332.7 579l185.3 0 0 58.2-64-8.2-49-5.4-16-2.9-15-3.9-14.3-5.8-5-3-4.7-3.8-5.7-6.2-7.3-9.6-3.2-5.4-1.1-4zM1350.8 900l5.2-0.6 5 0.3 5.9 1.3 4.6 2 4.5 3 4 3.7 3.3 4.3 2.8 5 2.9 7 2.1 8 1.4 8 0.7 9 0 11-0.8 11-1.4 4-2.6 2-4.4 1-6 0.4-38-0.2-4-0.8-2-1.1-3-4.2-4-12.1-2.3-13-0.2-12 1.9-11 3.6-9.4 5-7.3 7-5.7 4-2.1 4.8-1.5z"/>
<path fill="#9af500" fill-rule="evenodd" d="M1337.3 579l180.7 0 0 54-62-7.7-49-5-14-2.4-14-3.5-15-5.8-5-2.8-5-3.7-5.9-6.1-7.1-9-2.5-4-1.2-4zM1351.4 907l4.6-0.5 5 0.4 4 1.1 4.3 2 3.7 2.7 3.3 3.3 2.8 4 2.9 5.7 2.1 6.3 1.5 7 0.6 7 0.1 8-0.7 8-1.3 7-1.3 3-3 2.3-4 1-7 0.5-19 0.1-7-0.6-3-1-2-1.4-2-2.5-2.2-4.4-3.3-10-1.7-10 0-9 1.7-9 2.8-7 4.7-6.5 6-4.6 7.4-2.9z"/>
<path fill="#a9f600" fill-rule="evenodd" d="M1346.7 579l171.3 0 0 45.9-59-6.7-47-4-13-1.9-12-2.6-14-5-6-3.1-5-3.4-5-4.5-5.8-6.7-3.5-5-1-3zM1350.7 922l6.3-0.4 3 0.7 3.4 1.7 5 5 3.1 7 1.1 10-0.4 5-1.1 5-1.3 3-2.3 3-2.5 1.8-3 1.1-4 0.6-5-0.2-3-0.8-3-1.5-2.2-2-2.2-3-3.5-9-1-9 0.7-5 1.2-3.7 1.8-3.3 2.2-2.4 3-2.1 3.7-1.5z"/>
<path fill="#bff800" fill-rule="evenodd" d="M1360.4 579l157.6 0 0 34.7-45-4.1-56-3.1-14-1.5-10-1.7-11-3.4-8.5-4.9-4.7-4-4.5-5-2.9-4-1-3z"/>
<path fill="#d1fa00" fill-rule="evenodd" d="M1375.3 579l142.7 0 0 20.5-24-1.8-19 0.8-54-0.7-21-1.6-10-2.2-6.2-3-3.5-3-2.5-3-1.7-3-0.8-3z"/>
<path fill="#dafa00" fill-rule="evenodd" d="M1403.8 582l13.2 0.4 3.6 0.6 0.7 1-8.3 2.1-10 0.3-3-0.9-0.9-0.5-0.3-1 1.2-1.1 3.8-0.9z"/>
</g>
<g clip-path="url(#clipE)" fill="none" stroke="#333" stroke-width="2.9" stroke-linejoin="round">
<path d="M955.1,746.3C955.1,741.5 956,733.6 958.5,729.1C961,724.6 965.9,720.5 970,719.5C974.1,718.5 979.2,720.8 983.4,723.3C987.5,725.8 992.2,730.3 994.9,734.8C997.6,739.3 999.4,745 999.7,750.1C1000,755.2 999.5,761.6 996.8,765.4C994.1,769.2 988.2,772.8 983.4,773.1C978.6,773.4 972.2,769.8 968.1,767.3C964,764.8 960.7,761.3 958.5,757.8C956.3,754.3 955.1,751.1 955.1,746.3Z"/>
<path d="M904,658C905.1,657.4 908,658.9 910.7,654.5C913.4,650.1 916.5,638.8 920.3,631.5C924.1,624.2 928.3,615.8 933.7,610.5C939.1,605.2 945.5,601.9 952.8,600C960.1,598.1 970.4,598.3 977.7,599.4C985,600.5 990.4,602.9 996.8,606.7C1003.2,610.5 1009.5,616 1015.9,622C1022.3,628 1028.6,636 1035,643C1041.4,650 1047.8,657.7 1054.2,664.1C1060.6,670.5 1066.9,675.2 1073.3,681.3C1079.7,687.3 1087.3,694.7 1092.4,700.4C1097.5,706.1 1100.9,710.6 1103.9,715.7C1107,720.8 1109.2,725.3 1110.7,731C1112.2,736.7 1112.9,743.7 1112.6,750.1C1112.3,756.5 1110.1,764.1 1108.8,769.2C1107.5,774.3 1106.6,775.7 1105,780.7C1103.4,785.7 1103.2,792.1 1099,799.4C1094.8,806.7 1087.7,816.9 1079.6,824.6C1071.5,832.4 1060.2,839.4 1050.5,845.9C1040.8,852.4 1031.1,857.6 1021.4,863.4C1011.7,869.2 1001,876.4 992.3,880.9C983.6,885.4 976.1,889.7 969,890.5C961.9,891.3 955.4,888.9 949.6,885.7C943.8,882.5 939,877.5 934.1,871.2C929.2,864.9 924,856 920.5,847.9C917,839.8 914.6,828.7 912.8,822.7C911,816.7 911,814.8 909.5,812C908,809.2 904.9,807 904,806"/>
<path d="M1089,579C1089.9,580.1 1091.6,583.5 1094.3,585.6C1097,587.7 1100,587.6 1105,591.4C1110,595.2 1117.7,601.3 1124.1,608.6C1130.5,615.9 1137.5,626.1 1143.2,635.4C1148.9,644.6 1154,654.5 1158.5,664.1C1163,673.7 1167,683.2 1170,692.7C1173,702.2 1175.4,711.8 1176.7,721.4C1178,731 1178.1,741.7 1177.7,750.1C1177.3,758.5 1176.1,762.9 1174.5,772C1172.9,781.1 1171.5,794 1168,805C1164.5,816 1159.2,827.8 1153.5,838.2C1147.8,848.6 1140.6,858.2 1134.1,867.3C1127.6,876.3 1119.4,886.7 1114.7,892.5C1110,898.3 1110.2,897.1 1106,902C1101.8,906.9 1095.2,914.5 1089.2,921.6C1083.2,928.8 1076.4,937.8 1069.9,944.9C1063.5,952 1058.6,958.8 1050.5,964.3C1042.4,969.8 1031.1,974.9 1021.4,977.8C1011.7,980.7 1001,982 992.3,981.7C983.6,981.4 977.1,979.8 969,975.9C960.9,972 951.2,964.5 943.8,958.4C936.4,952.2 929.9,945.5 924.4,939C918.9,932.5 914.2,924.1 910.8,919.6C907.4,915.1 905.1,913.3 904,912"/>
<path d="M1185,579C1185.4,580 1184.6,579.5 1187.2,584.7C1189.8,590 1196.8,600.8 1200.6,610.5C1204.4,620.2 1207,632.5 1210.2,643C1213.4,653.5 1217.2,663.7 1219.7,673.6C1222.2,683.5 1224.2,692.7 1225.5,702.3C1226.8,711.9 1227.4,721.4 1227.4,731C1227.4,740.6 1226.3,751.2 1225.5,759.7C1224.7,768.2 1224.2,772.1 1222.5,782C1220.8,791.9 1218.7,806.8 1215.6,818.8C1212.5,830.8 1208.1,840.8 1203.9,853.7C1199.7,866.6 1194.2,882.8 1190.3,896.4C1186.4,910 1184.5,923.9 1180.6,935.2C1176.7,946.5 1172.3,955.5 1167.1,964.2C1161.9,972.9 1153.1,982.5 1149.6,987.5C1146.1,992.5 1146.6,992.9 1146,994"/>
<path d="M904,973C905,973.8 908.1,975.9 909.7,977.5C911.3,979.1 912.2,980.6 913.5,982.5C914.8,984.4 916.7,987.1 917.7,989C918.7,990.9 919.2,993.2 919.5,994"/>
<path d="M1240,579C1240.5,580 1240.3,578.5 1242.7,584.7C1245.1,590.9 1250.7,604.6 1254.2,616.2C1257.7,627.8 1260.2,642.4 1263.7,654.5C1267.2,666.6 1272,677.8 1275.2,688.9C1278.4,700 1281.6,711.2 1282.9,721.4C1284.2,731.6 1283.8,740.3 1282.9,750.1C1282,759.9 1281,766.9 1277.5,780C1274,793.1 1266.9,814 1262.1,828.5C1257.3,843 1252.4,854.4 1248.5,867.3C1244.6,880.2 1241.4,893.2 1238.8,906.1C1236.2,919 1236.2,931.3 1233,944.9C1229.8,958.5 1222,979.3 1219.4,987.5C1216.8,995.7 1217.8,992.9 1217.5,994"/>
<path d="M1299,579C1299.5,580.1 1299.8,581.6 1301.9,585.6C1304,589.6 1308,596.4 1311.5,602.8C1315,609.2 1318.5,617.5 1322.9,623.9C1327.4,630.3 1332.5,636.3 1338.2,641.1C1343.9,645.9 1349.3,649.5 1357.3,652.5C1365.3,655.5 1374.8,657.8 1386,659.2C1397.2,660.6 1413,660.1 1424.2,661.1C1435.4,662.1 1443.3,663.2 1452.9,665C1462.5,666.8 1471.7,669.2 1481.6,671.7C1491.5,674.2 1506.1,678.6 1512.2,680.3C1518.3,682 1517,681.7 1518,682"/>
<path d="M1297,994C1297.2,992.9 1298.1,994 1298,987.5C1297.9,981 1296.5,965.4 1296.5,955C1296.5,944.6 1297.1,933.8 1298,925C1298.9,916.2 1300.4,908.1 1302,902C1303.6,895.9 1304.9,894.6 1307.8,888.5C1310.7,882.4 1314.2,872.7 1319.4,865.3C1324.6,857.9 1332.3,849.5 1338.8,844C1345.3,838.5 1350.8,835.4 1358.2,832.3C1365.6,829.2 1375.9,826.1 1383.3,825.6C1390.7,825.1 1397.2,826.7 1402.7,829.4C1408.2,832.1 1412.4,836.7 1416.3,842C1420.2,847.3 1423.1,853 1426,861.4C1428.9,869.8 1430.8,881.7 1433.7,892.4C1436.6,903.1 1440.2,915 1443.4,925.4C1446.6,935.8 1450.2,944.8 1453.1,954.5C1456,964.2 1459.2,976.9 1460.9,983.5C1462.6,990.1 1462.7,992.2 1463,994"/>
</g>
<line x1="908" y1="730.5" x2="1514" y2="730.5" stroke="#fff" stroke-opacity="0.3" stroke-width="1"/>
<g clip-path="url(#clipA)">
<path d="M123,286.2C127.5,286.1 140.7,286 150,285.8C159.3,285.6 168.8,285.3 178.8,285C188.8,284.7 200.5,284.4 210,284C219.5,283.6 228.4,283.1 236,282.3C243.6,281.5 247.8,280.3 255.3,279C262.8,277.7 274,276.5 280.8,274.6C287.6,272.7 292.3,270.2 296,267.6C299.7,265 300.7,262.9 303,259C305.3,255.1 307.7,248.8 310,244C312.3,239.2 314.5,235.3 317,230C319.5,224.7 322.5,219.8 325,212C327.5,204.2 329.8,194.2 332,183C334.2,171.8 336.5,154.3 338,145C339.5,135.7 339.9,132.8 341,127C342.1,121.2 343.4,115.2 344.5,110C345.6,104.8 346.6,100.3 347.6,96C348.6,91.7 349.6,86.9 350.5,84C351.4,81.1 351.5,79.5 352.7,78.5C353.9,77.5 356.1,77.5 357.7,78C359.2,78.5 360.6,79.2 362,81.5C363.4,83.8 364.8,88.6 366,92C367.2,95.4 368,98.2 369,102C370,105.8 370.9,111.7 372.1,114.8C373.4,117.9 375.3,119.1 376.5,120.6C377.7,122 377.7,123.7 379.4,123.5C381.1,123.3 384.6,120.5 386.6,119.2C388.6,117.9 390.2,117.6 391.6,115.6C393,113.5 394,109.4 395.2,106.9C396.4,104.4 397.6,103 398.8,100.4C400,97.8 400.8,95.3 402.6,91.5C404.4,87.7 406.9,81.4 409.6,77.6C412.4,73.8 416.1,70.2 419.1,68.9C422.1,67.6 424.9,68.5 427.8,69.8C430.7,71.1 433.2,74.1 436.5,76.7C439.8,79.3 443.9,82.6 447.8,85.4C451.7,88.2 455.6,90.5 460,93.3C464.4,96.1 469.1,100 473.9,102C478.7,104 484.1,105.1 488.7,105.4C493.3,105.7 496.6,104.9 501.7,103.7C506.8,102.5 514.9,100 519.1,98.5C523.3,97 522.8,97.1 527,95C531.2,92.9 538.5,88.5 544.3,86C550.1,83.5 556.2,81 561.7,79.7C567.2,78.4 572.2,77.7 577.4,78C582.6,78.3 586.9,80.1 593,81.4C599.1,82.7 606.8,84.6 614,86C621.2,87.4 627.8,89.3 636.5,90C645.2,90.7 658.2,90.6 666,90.4C673.8,90.2 677.7,89.3 683.5,88.7C689.3,88.1 695.2,87.5 701,87C706.8,86.5 714.3,85.9 718.3,85.6C722.3,85.3 723.9,85.3 725,85.2" fill="none" stroke="#3b3b3b" stroke-width="3.3" stroke-linejoin="round" stroke-dasharray="8 5"/>
<path d="M123,288.2C127.5,288.1 140.5,288 150,287.9C159.5,287.8 170,287.7 180,287.6C190,287.5 199.6,287.4 210,287.3C220.4,287.2 233.9,287.2 242.5,286.8C251.1,286.4 255.3,285.8 261.7,284.8C268.1,283.8 275.6,282.6 281,280.6C286.4,278.6 290.6,275.9 294,273C297.4,270.1 299.1,266.8 301.2,263.5C303.2,260.2 304.4,256.9 306.3,253C308.2,249.1 310.6,244.2 312.7,240.2C314.8,236.2 316.6,234.2 319,229C321.4,223.8 324.7,217 327,209C329.3,201 331,192.6 333,181C335,169.4 337.5,148.7 339,139.4C340.5,130.1 340.9,129.8 341.8,125C342.8,120.2 343.7,115.3 344.7,110.5C345.7,105.7 346.6,100.5 347.6,96.1C348.6,91.6 349.6,86.8 350.5,83.8C351.4,80.8 351.5,79.1 352.7,78C353.9,76.9 356.3,76.7 357.7,77.3C359.1,77.9 360.1,79.7 361.3,81.6C362.5,83.5 363.7,86.1 364.9,88.9C366.1,91.7 367.3,95.2 368.5,98.2C369.7,101.2 370.5,104.6 372.1,106.9C373.7,109.2 376.1,111.4 377.9,112C379.7,112.6 380.9,112.4 383,110.5C385.1,108.6 387.8,104 390.2,100.4C392.6,96.8 394.8,93.1 397.4,88.9C400,84.7 403.2,78.5 406.1,75C409,71.5 411.9,69.3 414.8,68C417.7,66.7 420.6,66.9 423.5,67.2C426.4,67.5 429.3,68.5 432.2,69.8C435.1,71.1 438,73.1 440.9,75C443.8,76.9 446.7,79.1 449.6,81.1C452.5,83.1 455.4,85.2 458.3,87.2C461.2,89.2 464.1,91.4 467,93.3C469.9,95.2 472.8,97.2 475.7,98.5C478.6,99.8 481.4,100.5 484.3,101.1C487.2,101.7 489.4,101.9 493,102C496.6,102.1 502.5,102 506.1,101.5C509.7,101 511.1,100.1 514.8,99.3C518.4,98.5 523.1,97.8 528,96.5C532.9,95.2 538.7,93.2 544.3,91.3C549.9,89.4 556.5,86.5 561.7,84.9C566.9,83.3 570.5,81.9 575.7,81.7C580.9,81.5 586.6,82.6 593,83.5C599.4,84.4 608.2,86.4 614,87.3C619.8,88.2 623.5,88 627.8,88.7C632.1,89.4 633.6,90.8 640,91.3C646.4,91.8 658.8,92 666,91.8C673.2,91.6 677.7,90.6 683.5,90C689.3,89.4 694.1,88.8 701,88.3C707.9,87.8 721,87.2 725,87" fill="none" stroke="#3b3b3b" stroke-width="3.3" stroke-linejoin="round"/>
</g><g clip-path="url(#clipB)">
<path d="M123,561C129.2,560.9 147.2,560.8 160,560.5C172.8,560.2 186.7,560 200,559.5C213.3,559 229.7,558.2 240,557.5C250.3,556.8 255,556.1 262,555C269,553.9 276.3,553 282,551C287.7,549 292.2,546.5 296,543C299.8,539.5 301.8,535.5 305,530C308.2,524.5 311.5,517.8 315,510C318.5,502.2 323,493 326,483C329,473 330.7,462.2 333,450C335.3,437.8 337.8,421.2 340,410C342.2,398.8 344.3,390.3 346,383C347.7,375.7 348.7,370.2 350,366C351.3,361.8 352.7,359.5 353.9,358C355.1,356.5 355.9,356 357,357C358.1,358 359.4,360.9 360.8,364C362.2,367.1 364.1,372.2 365.3,375.4C366.5,378.5 366.7,380.7 367.8,382.9C368.9,385.1 370.5,386.8 372.2,388.6C373.9,390.4 375.9,393.2 377.9,393.7C379.9,394.2 382.5,393.2 384.2,391.8C385.9,390.4 386.3,388.2 388,385.5C389.7,382.8 392.5,377.9 394.3,375.4C396.1,372.9 397.2,372.7 398.7,370.3C400.2,367.9 401.7,363.3 403.1,360.8C404.5,358.3 405.3,357.4 406.9,355.2C408.5,353 410.9,349.4 412.6,347.6C414.3,345.8 415.5,345.2 417,344.5C418.5,343.8 420,343.1 421.7,343.3C423.4,343.6 425.2,344.7 427,346C428.8,347.3 429.6,348.4 432.2,351.1C434.8,353.8 438.2,358.5 442.6,362.4C447,366.3 453.5,372 458.3,374.6C463.1,377.2 466.2,377.3 471.3,378C476.4,378.7 483.6,379.2 488.7,378.9C493.8,378.6 497.4,377.6 501.7,376.3C506,375 510.4,373 514.8,371.1C519.1,369.2 523.6,366.9 527.8,365C532,363.1 534.4,361.6 540,359.5C545.6,357.4 555.2,353.4 561.7,352.2C568.2,351 571.8,350.8 579,352.2C586.2,353.6 596.5,358.4 605.2,360.9C613.9,363.4 622.6,366 631.3,367C640,368 648.7,367.9 657.4,367C666.1,366.1 676.2,363.4 683.5,361.7C690.8,359.9 695.8,357.9 701,356.5C706.2,355.1 710.8,353.8 714.8,353C718.8,352.2 723.3,352.2 725,352" fill="none" stroke="#f28122" stroke-width="3.3" stroke-linejoin="round" stroke-dasharray="8 5"/>
<path d="M123,562.8C129.2,562.8 147.2,562.7 160,562.6C172.8,562.5 186.7,562.5 200,562.4C213.3,562.3 229.8,562.1 240,561.8C250.2,561.5 253.8,561.7 261,560.5C268.2,559.3 277.7,557.1 283.4,554.5C289.1,551.9 291.3,549.7 295.2,545C299.1,540.3 303,532.9 306.9,526.3C310.8,519.7 315.1,513 318.6,505.2C322.1,497.4 325.3,489.5 328,479.4C330.7,469.2 332.8,456 335,444.3C337.2,432.6 339.4,419.4 341.3,409.4C343.2,399.4 344.8,391.3 346.3,384.2C347.8,377.1 349.1,371.2 350.1,366.5C351.2,361.8 351.2,357.8 352.6,355.8C354,353.8 356.7,354 358.3,354.5C359.9,355 360.7,356.9 362.1,358.9C363.5,360.9 364.9,363.8 366.5,366.5C368.1,369.2 370.1,373.3 371.6,375.4C373.1,377.5 373.9,378.1 375.4,379.1C376.9,380.2 378.7,381.8 380.4,381.7C382.1,381.6 383.8,380.4 385.5,378.5C387.2,376.6 388.8,373 390.5,370.3C392.2,367.6 393.9,364.8 395.6,362.1C397.3,359.4 398.8,356.6 400.6,353.9C402.4,351.2 404.2,348.3 406.3,345.7C408.4,343.1 411.2,339.9 413,338.5C414.8,337.1 415.7,337.6 417,337.5C418.3,337.4 419.1,337.2 420.9,338C422.7,338.8 425.2,340.1 427.8,342.4C430.4,344.7 433.6,348.8 436.5,352C439.4,355.2 442.3,358.9 445.2,361.5C448.1,364.1 450.3,365.8 453.9,367.6C457.5,369.4 462.6,371.2 467,372.4C471.4,373.6 475.7,374.2 480,374.6C484.3,375 488.6,375 493,374.6C497.4,374.2 501.8,373.2 506.1,372C510.5,370.8 514.2,369.4 519.1,367.6C524,365.8 528.6,363.5 535.7,361.2C542.8,358.9 554.5,354.5 561.7,353.9C568.9,353.3 571.8,355.2 579,357.4C586.2,359.6 596.5,364.8 605.2,367C613.9,369.2 622.6,370.5 631.3,370.8C640,371.1 648.7,370.2 657.4,369C666.1,367.8 676.2,365.1 683.5,363.5C690.8,361.9 694.1,360.2 701,359.1C707.9,358.1 721,357.5 725,357.2" fill="none" stroke="#f28122" stroke-width="3.3" stroke-linejoin="round"/>
</g><g clip-path="url(#clipC)">
<path d="M122.6,986C127.2,985.8 141.3,985.1 150,985C158.7,984.9 167.3,985.8 175,985.5C182.7,985.2 189.3,983.1 196,983C202.7,982.9 207.7,984.2 215,985C222.3,985.8 233.3,989.2 240,988C246.7,986.8 250,981.7 255,978C260,974.3 265,969.8 270,966C275,962.2 279.4,958.2 285,955C290.6,951.8 298.8,951.5 303.8,946.5C308.8,941.5 310.7,933.9 315,925C319.3,916.1 324.9,897.3 329.6,893C334.3,888.7 338.4,893.4 343.4,899C348.3,904.6 355.7,920.4 359.3,926.7C362.9,933 362.9,936.6 365.2,936.6C367.5,936.6 369.9,936.3 373.2,926.7C376.5,917.1 381.4,895.3 385,879.1C388.6,862.9 392.2,844.5 395,829.6C397.8,814.8 399.8,802.9 402,790C404.2,777.1 406,760.2 408,752C410,743.8 411.3,740.2 413.8,741C416.3,741.8 420,748 423,757C426,766 428.9,780.5 432,795C435.1,809.5 438.7,833.7 441.5,844.3C444.3,854.9 445.2,853.5 448.8,858.8C452.4,864.1 457.9,871.3 463.2,876.1C468.5,880.9 475.9,883.5 480.5,887.6C485.1,891.7 487.7,896 490.6,900.6C493.5,905.2 495.6,910.2 497.8,915C500,919.8 501.9,924.7 503.6,929.5C505.3,934.3 506.5,939.1 507.9,943.9C509.3,948.7 510.7,953.9 512.2,958.3C513.7,962.6 515.3,966.9 517,970C518.7,973.1 520.1,975.1 522.3,977.1C524.5,979.1 527,980.2 530,982C533,983.8 535.8,987.7 540,988C544.2,988.3 550,984.2 555,984C560,983.8 564.2,987.2 570,987C575.8,986.8 584.2,982.8 590,983C595.8,983.2 599.2,987.5 605,988C610.8,988.5 617.5,986.2 625,986C632.5,985.8 641.7,987.2 650,987C658.3,986.8 666.7,985 675,985C683.3,985 691.7,987 700,987C708.3,987 720.8,985.3 725,985" fill="none" stroke="#30353f" stroke-width="3.3" stroke-linejoin="round" stroke-dasharray="9 6"/>
<path d="M122.6,984.6C124.7,984.7 130.3,985.2 135,985C139.7,984.8 144.7,983.6 150.5,983.5C156.3,983.4 162.3,984.8 170,984.5C177.7,984.2 190.1,983 196.8,981.7C203.5,980.5 205.8,978.2 210,977C214.2,975.8 218.3,973.5 222.3,974.2C226.3,974.9 231.1,979.3 234,981.2C236.9,983.1 236.8,987.3 239.7,985.8C242.6,984.2 247.4,976.7 251.3,971.9C255.2,967.1 258.2,960.6 263,956.8C267.8,953 274.5,950.4 280.3,949.3C286.1,948.1 293.4,951.2 297.7,949.9C301.9,948.6 302.8,946.7 305.8,941.7C308.8,936.7 312.1,926.3 315.7,920C319.3,913.7 324,906.4 327.6,903.9C331.2,901.4 333.9,902.8 337.5,904.9C341.1,907 345.1,913.8 349.4,916.8C353.7,919.8 359.3,922.4 363.3,922.7C367.3,923 369.9,923.8 373.2,918.8C376.5,913.8 380.1,904.6 383.1,893C386.1,881.4 388.4,865.7 391,849.4C393.6,833.1 396.3,811.3 399,795C401.7,778.7 404.5,760.7 407,751.4C409.5,742.1 411.1,738.8 413.8,739.3C416.5,739.8 420.4,746.2 423.3,754.1C426.2,762 428.7,774.4 431.4,786.6C434.1,798.8 436.9,815.9 439.6,827.2C442.3,838.5 444.1,847.1 447.7,854.3C451.3,861.5 456.7,866 461.2,870.5C465.7,875 470.2,877.3 474.7,881.4C479.2,885.5 484.7,888.1 488.3,894.9C491.9,901.7 493.7,911.2 496.4,922C499.1,932.8 502.2,951.8 504.5,959.9C506.8,968 507.2,969.4 509.9,970.7C512.6,972.1 517.6,966.6 520.8,968C524,969.4 526,975.7 528.9,978.8C531.8,981.9 534.4,987.6 538.4,986.5C542.4,985.4 548.3,973.4 552.8,971.9C557.3,970.4 560.5,978.7 565.5,977.7C570.5,976.7 577.9,965.8 582.9,966C587.9,966.2 592.2,975.3 595.7,978.8C599.2,982.3 600.3,986.8 603.8,987C607.3,987.2 611.7,980.2 616.5,980C621.3,979.8 627.2,986 632.8,985.8C638.4,985.6 644.8,980.3 650,978.8C655.2,977.2 659.2,975.9 664,976.5C668.8,977.1 673,981.1 679,982.3C685,983.5 694.2,982.5 700,983.5C705.8,984.5 709.8,988.4 714,988C718.2,987.6 723.6,982.3 725.5,981.2" fill="none" stroke="#30353f" stroke-width="3.3" stroke-linejoin="round"/>
<path d="M122.6,983C125.5,983.3 133.8,984.8 140,985C146.2,985.2 153.3,984.2 160,984C166.7,983.8 173.3,983.5 180,983.5C186.7,983.5 194.2,984.5 200,984C205.8,983.5 210,980.5 215,980.5C220,980.5 224.2,983.8 230,984C235.8,984.2 243.3,983.5 250,982C256.7,980.5 264.2,977.7 270,975C275.8,972.3 279.4,969.8 285,966C290.6,962.2 298,960.4 303.8,952.5C309.6,944.6 315.4,933 319.7,918.8C324,904.5 325.7,877.6 329.6,867C333.6,856.4 338.4,855.9 343.4,855.3C348.3,854.7 355,864.9 359.3,863.3C363.6,861.6 365.6,855.6 369.2,845.4C372.8,835.1 378,809.4 381,801.8C384,794.2 384.7,797.1 387,799.8C389.3,802.4 391.4,805.1 395,817.7C398.6,830.3 404.3,850.8 408.9,875.2C413.5,899.7 419.4,949.2 422.7,964.4C426,979.6 426.8,969.6 428.7,966.4C430.6,963.2 432.3,953.3 434,945C435.7,936.7 436.9,924 438.7,916.5C440.5,909 442.9,904.5 445,900C447.1,895.5 448.8,892.2 451.6,889.2C454.4,886.2 458.4,883 461.8,882C465.2,881 468.5,880.8 472,883C475.5,885.2 479.7,888.8 483,895C486.3,901.2 489.3,910.9 492,920C494.7,929.1 497.6,943.3 499.3,949.7C501,956.1 500.5,954.2 502.2,958.3C503.9,962.4 505.8,971.1 509.4,974.2C513,977.3 520.3,976.4 523.9,977.1C527.5,977.8 528.3,977.4 531,978.5C533.7,979.6 536.8,983.6 540,984C543.2,984.4 546.7,981 550,981C553.3,981 555,983.3 560,984C565,984.7 573.3,984.7 580,985C586.7,985.3 592.5,986 600,986C607.5,986 616.7,985 625,985C633.3,985 641.7,986 650,986C658.3,986 666.7,985 675,985C683.3,985 691.7,986 700,986C708.3,986 720.8,985.2 725,985" fill="none" stroke="#f28122" stroke-width="3.3" stroke-linejoin="round" stroke-dasharray="9 6"/>
<path d="M122.6,981.2C124.7,981.9 130.6,985.5 135.4,985.2C140.2,984.9 146.4,979.5 151.6,979.4C156.8,979.3 161.5,984.7 166.7,984.6C171.9,984.5 177.5,978.8 182.9,978.8C188.3,978.8 193.8,985.6 199.2,984.6C204.6,983.6 210.4,974 215.4,973C220.4,972 225.6,977 229.3,978.8C233,980.5 234.3,984.3 237.4,983.5C240.5,982.7 244,973.8 247.9,974.2C251.8,974.6 256.6,988.1 260.6,985.8C264.7,983.5 268.5,968 272.2,960.3C275.9,952.6 279.3,943.1 282.6,939.4C285.9,935.7 288.4,935.6 291.9,938.3C295.4,941 300.5,951.9 303.5,955.7C306.5,959.6 307.7,962.3 309.7,961.4C311.7,960.5 313.4,960.9 315.7,950.5C318,940.1 321,914.2 323.6,899C326.2,883.8 328.9,870.2 331.5,859.3C334.1,848.4 336.9,835.5 339.5,833.5C342.1,831.5 345.1,840.4 347.4,847.4C349.7,854.4 351.2,866.3 353.4,875.2C355.5,884.1 358,901 360.3,901C362.6,901 364.7,888.8 367.2,875.2C369.7,861.7 372.2,834.2 375.2,819.7C378.2,805.2 382,792 385,788C388,784 390,788.6 393,795.9C396,803.1 399.4,814.3 403,831.5C406.6,848.7 411.5,877.9 414.8,899C418.1,920.1 420.4,946.4 422.7,958.4C425,970.4 426.4,974.6 428.7,971.3C431,968 434.3,947.7 436.6,938.6C438.9,929.5 440,925.7 442.3,916.6C444.6,907.5 447.7,891.2 450.4,884C453.1,876.8 455.4,874.2 458.5,873.3C461.6,872.4 465.2,875.1 469.3,878.7C473.4,882.3 478.8,887.2 482.9,894.9C487,902.6 490.1,915.7 493.7,924.7C497.3,933.7 500.4,945 504.5,949C508.6,953 514.2,946.7 518,949C521.8,951.3 524.3,956.6 527.5,962.6C530.7,968.6 534.8,982.3 537,985C539.2,987.7 538.6,982.3 541,979C543.4,975.7 547.5,965.8 551.6,965C555.7,964.2 560.3,975.3 565.5,974.2C570.7,973.1 578.3,959.4 582.9,958.6C587.5,957.8 589.8,965.1 593.3,969.6C596.8,974.1 599.1,985.7 603.8,985.8C608.4,985.9 615,970.9 621.2,970.1C627.4,969.3 634.2,979 641,981.2C647.8,983.4 654.8,984.6 661.7,983.5C668.6,982.4 675.8,974.4 682.6,974.8C689.4,975.2 696.3,986.3 702.3,985.8C708.3,985.3 714.7,973.4 718.6,971.9C722.5,970.4 724.4,975.7 725.5,976.5" fill="none" stroke="#f28122" stroke-width="3.3" stroke-linejoin="round"/>
</g>
<line x1="104.5" y1="290.5" x2="121" y2="290.5" stroke="#000" stroke-width="3.2"/>
<line x1="104.5" y1="192.5" x2="121" y2="192.5" stroke="#000" stroke-width="3.2"/>
<line x1="104.5" y1="94.4" x2="121" y2="94.4" stroke="#000" stroke-width="3.2"/>
<line x1="112.5" y1="270.9" x2="121" y2="270.9" stroke="#000" stroke-width="3.2"/>
<line x1="112.5" y1="251.3" x2="121" y2="251.3" stroke="#000" stroke-width="3.2"/>
<line x1="112.5" y1="231.7" x2="121" y2="231.7" stroke="#000" stroke-width="3.2"/>
<line x1="112.5" y1="212.1" x2="121" y2="212.1" stroke="#000" stroke-width="3.2"/>
<line x1="112.5" y1="172.9" x2="121" y2="172.9" stroke="#000" stroke-width="3.2"/>
<line x1="112.5" y1="153.2" x2="121" y2="153.2" stroke="#000" stroke-width="3.2"/>
<line x1="112.5" y1="133.6" x2="121" y2="133.6" stroke="#000" stroke-width="3.2"/>
<line x1="112.5" y1="114" x2="121" y2="114" stroke="#000" stroke-width="3.2"/>
<line x1="112.5" y1="74.8" x2="121" y2="74.8" stroke="#000" stroke-width="3.2"/>
<line x1="112.5" y1="55.2" x2="121" y2="55.2" stroke="#000" stroke-width="3.2"/>
<line x1="112.5" y1="35.6" x2="121" y2="35.6" stroke="#000" stroke-width="3.2"/>
<line x1="112.5" y1="16" x2="121" y2="16" stroke="#000" stroke-width="3.2"/>
<line x1="121" y1="290.5" x2="121" y2="307.5" stroke="#000" stroke-width="3.2"/>
<line x1="272.6" y1="290.5" x2="272.6" y2="307.5" stroke="#000" stroke-width="3.2"/>
<line x1="424.1" y1="290.5" x2="424.1" y2="307.5" stroke="#000" stroke-width="3.2"/>
<line x1="575.6" y1="290.5" x2="575.6" y2="307.5" stroke="#000" stroke-width="3.2"/>
<line x1="727.2" y1="290.5" x2="727.2" y2="307.5" stroke="#000" stroke-width="3.2"/>
<line x1="151.3" y1="290.5" x2="151.3" y2="298" stroke="#000" stroke-width="3.2"/>
<line x1="181.6" y1="290.5" x2="181.6" y2="298" stroke="#000" stroke-width="3.2"/>
<line x1="211.9" y1="290.5" x2="211.9" y2="298" stroke="#000" stroke-width="3.2"/>
<line x1="242.2" y1="290.5" x2="242.2" y2="298" stroke="#000" stroke-width="3.2"/>
<line x1="302.9" y1="290.5" x2="302.9" y2="298" stroke="#000" stroke-width="3.2"/>
<line x1="333.2" y1="290.5" x2="333.2" y2="298" stroke="#000" stroke-width="3.2"/>
<line x1="363.5" y1="290.5" x2="363.5" y2="298" stroke="#000" stroke-width="3.2"/>
<line x1="393.8" y1="290.5" x2="393.8" y2="298" stroke="#000" stroke-width="3.2"/>
<line x1="454.4" y1="290.5" x2="454.4" y2="298" stroke="#000" stroke-width="3.2"/>
<line x1="484.7" y1="290.5" x2="484.7" y2="298" stroke="#000" stroke-width="3.2"/>
<line x1="515" y1="290.5" x2="515" y2="298" stroke="#000" stroke-width="3.2"/>
<line x1="545.3" y1="290.5" x2="545.3" y2="298" stroke="#000" stroke-width="3.2"/>
<line x1="606" y1="290.5" x2="606" y2="298" stroke="#000" stroke-width="3.2"/>
<line x1="636.3" y1="290.5" x2="636.3" y2="298" stroke="#000" stroke-width="3.2"/>
<line x1="666.6" y1="290.5" x2="666.6" y2="298" stroke="#000" stroke-width="3.2"/>
<line x1="696.9" y1="290.5" x2="696.9" y2="298" stroke="#000" stroke-width="3.2"/>
<line x1="104.5" y1="565" x2="121" y2="565" stroke="#000" stroke-width="3.2"/>
<line x1="104.5" y1="467" x2="121" y2="467" stroke="#000" stroke-width="3.2"/>
<line x1="104.5" y1="368.9" x2="121" y2="368.9" stroke="#000" stroke-width="3.2"/>
<line x1="112.5" y1="545.4" x2="121" y2="545.4" stroke="#000" stroke-width="3.2"/>
<line x1="112.5" y1="525.8" x2="121" y2="525.8" stroke="#000" stroke-width="3.2"/>
<line x1="112.5" y1="506.2" x2="121" y2="506.2" stroke="#000" stroke-width="3.2"/>
<line x1="112.5" y1="486.6" x2="121" y2="486.6" stroke="#000" stroke-width="3.2"/>
<line x1="112.5" y1="447.4" x2="121" y2="447.4" stroke="#000" stroke-width="3.2"/>
<line x1="112.5" y1="427.8" x2="121" y2="427.8" stroke="#000" stroke-width="3.2"/>
<line x1="112.5" y1="408.1" x2="121" y2="408.1" stroke="#000" stroke-width="3.2"/>
<line x1="112.5" y1="388.5" x2="121" y2="388.5" stroke="#000" stroke-width="3.2"/>
<line x1="112.5" y1="349.3" x2="121" y2="349.3" stroke="#000" stroke-width="3.2"/>
<line x1="112.5" y1="329.7" x2="121" y2="329.7" stroke="#000" stroke-width="3.2"/>
<line x1="112.5" y1="310.1" x2="121" y2="310.1" stroke="#000" stroke-width="3.2"/>
<line x1="112.5" y1="290.5" x2="121" y2="290.5" stroke="#000" stroke-width="3.2"/>
<line x1="121" y1="565" x2="121" y2="582" stroke="#000" stroke-width="3.2"/>
<line x1="272.6" y1="565" x2="272.6" y2="582" stroke="#000" stroke-width="3.2"/>
<line x1="424.1" y1="565" x2="424.1" y2="582" stroke="#000" stroke-width="3.2"/>
<line x1="575.6" y1="565" x2="575.6" y2="582" stroke="#000" stroke-width="3.2"/>
<line x1="727.2" y1="565" x2="727.2" y2="582" stroke="#000" stroke-width="3.2"/>
<line x1="151.3" y1="565" x2="151.3" y2="572.5" stroke="#000" stroke-width="3.2"/>
<line x1="181.6" y1="565" x2="181.6" y2="572.5" stroke="#000" stroke-width="3.2"/>
<line x1="211.9" y1="565" x2="211.9" y2="572.5" stroke="#000" stroke-width="3.2"/>
<line x1="242.2" y1="565" x2="242.2" y2="572.5" stroke="#000" stroke-width="3.2"/>
<line x1="302.9" y1="565" x2="302.9" y2="572.5" stroke="#000" stroke-width="3.2"/>
<line x1="333.2" y1="565" x2="333.2" y2="572.5" stroke="#000" stroke-width="3.2"/>
<line x1="363.5" y1="565" x2="363.5" y2="572.5" stroke="#000" stroke-width="3.2"/>
<line x1="393.8" y1="565" x2="393.8" y2="572.5" stroke="#000" stroke-width="3.2"/>
<line x1="454.4" y1="565" x2="454.4" y2="572.5" stroke="#000" stroke-width="3.2"/>
<line x1="484.7" y1="565" x2="484.7" y2="572.5" stroke="#000" stroke-width="3.2"/>
<line x1="515" y1="565" x2="515" y2="572.5" stroke="#000" stroke-width="3.2"/>
<line x1="545.3" y1="565" x2="545.3" y2="572.5" stroke="#000" stroke-width="3.2"/>
<line x1="606" y1="565" x2="606" y2="572.5" stroke="#000" stroke-width="3.2"/>
<line x1="636.3" y1="565" x2="636.3" y2="572.5" stroke="#000" stroke-width="3.2"/>
<line x1="666.6" y1="565" x2="666.6" y2="572.5" stroke="#000" stroke-width="3.2"/>
<line x1="696.9" y1="565" x2="696.9" y2="572.5" stroke="#000" stroke-width="3.2"/>
<rect x="121" y="16" width="606.2" height="549" fill="none" stroke="#000" stroke-width="3.4"/>
<line x1="121" y1="290.5" x2="727.2" y2="290.5" stroke="#000" stroke-width="3.4"/>
<text x="90.5" y="300" font-size="29.3" text-anchor="end">0.0</text>
<text x="90.5" y="201.9" font-size="29.3" text-anchor="end">0.5</text>
<text x="90.5" y="103.9" font-size="29.3" text-anchor="end">1.0</text>
<text x="90.5" y="574.5" font-size="29.3" text-anchor="end">0.0</text>
<text x="90.5" y="476.4" font-size="29.3" text-anchor="end">0.5</text>
<text x="90.5" y="378.4" font-size="29.3" text-anchor="end">1.0</text>
<text x="121" y="615.5" font-size="29.3" text-anchor="middle">22050</text>
<text x="272.6" y="615.5" font-size="29.3" text-anchor="middle">22100</text>
<text x="424.1" y="615.5" font-size="29.3" text-anchor="middle">22150</text>
<text x="575.6" y="615.5" font-size="29.3" text-anchor="middle">22200</text>
<text x="727.2" y="615.5" font-size="29.3" text-anchor="middle">22250</text>
<text x="423.5" y="669" font-size="29.6" text-anchor="middle">Energy (eV)</text>
<text transform="translate(35,256.5) rotate(-90)" font-size="30.3" text-anchor="middle">Normalized &#956;<tspan font-style="italic">d</tspan></text>
<text x="152.5" y="71" font-size="32" text-anchor="start" font-weight="bold">a</text>
<text x="152.5" y="346" font-size="32" text-anchor="start" font-weight="bold">b</text>
<line x1="104.5" y1="991" x2="121" y2="991" stroke="#000" stroke-width="3.2"/>
<line x1="104.5" y1="922.2" x2="121" y2="922.2" stroke="#000" stroke-width="3.2"/>
<line x1="104.5" y1="853.5" x2="121" y2="853.5" stroke="#000" stroke-width="3.2"/>
<line x1="104.5" y1="784.8" x2="121" y2="784.8" stroke="#000" stroke-width="3.2"/>
<line x1="104.5" y1="716" x2="121" y2="716" stroke="#000" stroke-width="3.2"/>
<line x1="112.5" y1="977.2" x2="121" y2="977.2" stroke="#000" stroke-width="3.2"/>
<line x1="112.5" y1="963.5" x2="121" y2="963.5" stroke="#000" stroke-width="3.2"/>
<line x1="112.5" y1="949.8" x2="121" y2="949.8" stroke="#000" stroke-width="3.2"/>
<line x1="112.5" y1="936" x2="121" y2="936" stroke="#000" stroke-width="3.2"/>
<line x1="112.5" y1="908.5" x2="121" y2="908.5" stroke="#000" stroke-width="3.2"/>
<line x1="112.5" y1="894.8" x2="121" y2="894.8" stroke="#000" stroke-width="3.2"/>
<line x1="112.5" y1="881" x2="121" y2="881" stroke="#000" stroke-width="3.2"/>
<line x1="112.5" y1="867.2" x2="121" y2="867.2" stroke="#000" stroke-width="3.2"/>
<line x1="112.5" y1="839.8" x2="121" y2="839.8" stroke="#000" stroke-width="3.2"/>
<line x1="112.5" y1="826" x2="121" y2="826" stroke="#000" stroke-width="3.2"/>
<line x1="112.5" y1="812.2" x2="121" y2="812.2" stroke="#000" stroke-width="3.2"/>
<line x1="112.5" y1="798.5" x2="121" y2="798.5" stroke="#000" stroke-width="3.2"/>
<line x1="112.5" y1="771" x2="121" y2="771" stroke="#000" stroke-width="3.2"/>
<line x1="112.5" y1="757.2" x2="121" y2="757.2" stroke="#000" stroke-width="3.2"/>
<line x1="112.5" y1="743.5" x2="121" y2="743.5" stroke="#000" stroke-width="3.2"/>
<line x1="112.5" y1="729.8" x2="121" y2="729.8" stroke="#000" stroke-width="3.2"/>
<line x1="121" y1="991" x2="121" y2="1008" stroke="#000" stroke-width="3.2"/>
<line x1="255.4" y1="991" x2="255.4" y2="1008" stroke="#000" stroke-width="3.2"/>
<line x1="389.8" y1="991" x2="389.8" y2="1008" stroke="#000" stroke-width="3.2"/>
<line x1="524.2" y1="991" x2="524.2" y2="1008" stroke="#000" stroke-width="3.2"/>
<line x1="658.6" y1="991" x2="658.6" y2="1008" stroke="#000" stroke-width="3.2"/>
<line x1="147.9" y1="991" x2="147.9" y2="998.5" stroke="#000" stroke-width="3.2"/>
<line x1="174.8" y1="991" x2="174.8" y2="998.5" stroke="#000" stroke-width="3.2"/>
<line x1="201.6" y1="991" x2="201.6" y2="998.5" stroke="#000" stroke-width="3.2"/>
<line x1="228.5" y1="991" x2="228.5" y2="998.5" stroke="#000" stroke-width="3.2"/>
<line x1="282.3" y1="991" x2="282.3" y2="998.5" stroke="#000" stroke-width="3.2"/>
<line x1="309.2" y1="991" x2="309.2" y2="998.5" stroke="#000" stroke-width="3.2"/>
<line x1="336" y1="991" x2="336" y2="998.5" stroke="#000" stroke-width="3.2"/>
<line x1="362.9" y1="991" x2="362.9" y2="998.5" stroke="#000" stroke-width="3.2"/>
<line x1="416.7" y1="991" x2="416.7" y2="998.5" stroke="#000" stroke-width="3.2"/>
<line x1="443.6" y1="991" x2="443.6" y2="998.5" stroke="#000" stroke-width="3.2"/>
<line x1="470.4" y1="991" x2="470.4" y2="998.5" stroke="#000" stroke-width="3.2"/>
<line x1="497.3" y1="991" x2="497.3" y2="998.5" stroke="#000" stroke-width="3.2"/>
<line x1="551.1" y1="991" x2="551.1" y2="998.5" stroke="#000" stroke-width="3.2"/>
<line x1="578" y1="991" x2="578" y2="998.5" stroke="#000" stroke-width="3.2"/>
<line x1="604.8" y1="991" x2="604.8" y2="998.5" stroke="#000" stroke-width="3.2"/>
<line x1="631.7" y1="991" x2="631.7" y2="998.5" stroke="#000" stroke-width="3.2"/>
<line x1="685.5" y1="991" x2="685.5" y2="998.5" stroke="#000" stroke-width="3.2"/>
<line x1="712.4" y1="991" x2="712.4" y2="998.5" stroke="#000" stroke-width="3.2"/>
<rect x="121" y="716" width="606.2" height="275" fill="none" stroke="#000" stroke-width="3.4"/>
<text x="90.5" y="1000.5" font-size="29.3" text-anchor="end">0</text>
<text x="90.5" y="931.8" font-size="29.3" text-anchor="end">4</text>
<text x="90.5" y="863" font-size="29.3" text-anchor="end">8</text>
<text x="90.5" y="794.2" font-size="29.3" text-anchor="end">12</text>
<text x="90.5" y="725.5" font-size="29.3" text-anchor="end">16</text>
<text x="121" y="1042" font-size="29.3" text-anchor="middle">0</text>
<text x="255.4" y="1042" font-size="29.3" text-anchor="middle">1</text>
<text x="389.8" y="1042" font-size="29.3" text-anchor="middle">2</text>
<text x="524.2" y="1042" font-size="29.3" text-anchor="middle">3</text>
<text x="658.6" y="1042" font-size="29.3" text-anchor="middle">4</text>
<text x="423.5" y="1095.5" font-size="29.7" text-anchor="middle">Radial distance (&#197;)</text>
<text transform="translate(41.5,857.5) rotate(-90)" font-size="29.3" text-anchor="middle">|<tspan font-style="italic">&#967;</tspan>(<tspan font-style="italic">R</tspan>)|(&#197;<tspan dy="-11" font-size="19">&#8722;4</tspan><tspan dy="11">)</tspan></text>
<text x="152.5" y="771" font-size="32" text-anchor="start" font-weight="bold">c</text>
<line x1="891.5" y1="421" x2="908" y2="421" stroke="#000" stroke-width="3.2"/>
<line x1="891.5" y1="370.4" x2="908" y2="370.4" stroke="#000" stroke-width="3.2"/>
<line x1="891.5" y1="319.8" x2="908" y2="319.8" stroke="#000" stroke-width="3.2"/>
<line x1="891.5" y1="269.2" x2="908" y2="269.2" stroke="#000" stroke-width="3.2"/>
<line x1="891.5" y1="218.7" x2="908" y2="218.7" stroke="#000" stroke-width="3.2"/>
<line x1="891.5" y1="168.1" x2="908" y2="168.1" stroke="#000" stroke-width="3.2"/>
<line x1="891.5" y1="117.5" x2="908" y2="117.5" stroke="#000" stroke-width="3.2"/>
<line x1="891.5" y1="66.9" x2="908" y2="66.9" stroke="#000" stroke-width="3.2"/>
<line x1="891.5" y1="16.3" x2="908" y2="16.3" stroke="#000" stroke-width="3.2"/>
<line x1="899.5" y1="395.7" x2="908" y2="395.7" stroke="#000" stroke-width="3.2"/>
<line x1="899.5" y1="345.1" x2="908" y2="345.1" stroke="#000" stroke-width="3.2"/>
<line x1="899.5" y1="294.5" x2="908" y2="294.5" stroke="#000" stroke-width="3.2"/>
<line x1="899.5" y1="243.9" x2="908" y2="243.9" stroke="#000" stroke-width="3.2"/>
<line x1="899.5" y1="193.4" x2="908" y2="193.4" stroke="#000" stroke-width="3.2"/>
<line x1="899.5" y1="142.8" x2="908" y2="142.8" stroke="#000" stroke-width="3.2"/>
<line x1="899.5" y1="92.2" x2="908" y2="92.2" stroke="#000" stroke-width="3.2"/>
<line x1="899.5" y1="41.6" x2="908" y2="41.6" stroke="#000" stroke-width="3.2"/>
<line x1="908" y1="421" x2="908" y2="437" stroke="#000" stroke-width="3.2"/>
<line x1="1018.2" y1="421" x2="1018.2" y2="437" stroke="#000" stroke-width="3.2"/>
<line x1="1128.4" y1="421" x2="1128.4" y2="437" stroke="#000" stroke-width="3.2"/>
<line x1="1238.5" y1="421" x2="1238.5" y2="437" stroke="#000" stroke-width="3.2"/>
<line x1="1348.7" y1="421" x2="1348.7" y2="437" stroke="#000" stroke-width="3.2"/>
<line x1="1458.9" y1="421" x2="1458.9" y2="437" stroke="#000" stroke-width="3.2"/>
<line x1="963.1" y1="421" x2="963.1" y2="429" stroke="#000" stroke-width="3.2"/>
<line x1="1073.3" y1="421" x2="1073.3" y2="429" stroke="#000" stroke-width="3.2"/>
<line x1="1183.5" y1="421" x2="1183.5" y2="429" stroke="#000" stroke-width="3.2"/>
<line x1="1293.6" y1="421" x2="1293.6" y2="429" stroke="#000" stroke-width="3.2"/>
<line x1="1403.8" y1="421" x2="1403.8" y2="429" stroke="#000" stroke-width="3.2"/>
<line x1="1514" y1="421" x2="1514" y2="429" stroke="#000" stroke-width="3.2"/>
<rect x="908" y="16.3" width="606" height="404.7" fill="none" stroke="#000" stroke-width="3.4"/>
<text x="878.5" y="430" font-size="29.3" text-anchor="end">1.70</text>
<text x="878.5" y="379.4" font-size="29.3" text-anchor="end">1.75</text>
<text x="878.5" y="328.8" font-size="29.3" text-anchor="end">1.80</text>
<text x="878.5" y="278.2" font-size="29.3" text-anchor="end">1.85</text>
<text x="878.5" y="227.7" font-size="29.3" text-anchor="end">1.90</text>
<text x="878.5" y="177.1" font-size="29.3" text-anchor="end">1.95</text>
<text x="878.5" y="126.5" font-size="29.3" text-anchor="end">2.00</text>
<text x="878.5" y="75.9" font-size="29.3" text-anchor="end">2.05</text>
<text x="878.5" y="25.3" font-size="29.3" text-anchor="end">2.10</text>
<text x="908" y="471.5" font-size="29.3" text-anchor="middle">1.7</text>
<text x="1018.2" y="471.5" font-size="29.3" text-anchor="middle">1.8</text>
<text x="1128.4" y="471.5" font-size="29.3" text-anchor="middle">1.9</text>
<text x="1238.5" y="471.5" font-size="29.3" text-anchor="middle">2.0</text>
<text x="1348.7" y="471.5" font-size="29.3" text-anchor="middle">2.1</text>
<text x="1458.9" y="471.5" font-size="29.3" text-anchor="middle">2.2</text>
<line x1="891.5" y1="990" x2="908" y2="990" stroke="#000" stroke-width="3.2"/>
<line x1="891.5" y1="939.1" x2="908" y2="939.1" stroke="#000" stroke-width="3.2"/>
<line x1="891.5" y1="888.2" x2="908" y2="888.2" stroke="#000" stroke-width="3.2"/>
<line x1="891.5" y1="837.4" x2="908" y2="837.4" stroke="#000" stroke-width="3.2"/>
<line x1="891.5" y1="786.5" x2="908" y2="786.5" stroke="#000" stroke-width="3.2"/>
<line x1="891.5" y1="735.6" x2="908" y2="735.6" stroke="#000" stroke-width="3.2"/>
<line x1="891.5" y1="684.8" x2="908" y2="684.8" stroke="#000" stroke-width="3.2"/>
<line x1="891.5" y1="633.9" x2="908" y2="633.9" stroke="#000" stroke-width="3.2"/>
<line x1="891.5" y1="583" x2="908" y2="583" stroke="#000" stroke-width="3.2"/>
<line x1="899.5" y1="964.6" x2="908" y2="964.6" stroke="#000" stroke-width="3.2"/>
<line x1="899.5" y1="913.7" x2="908" y2="913.7" stroke="#000" stroke-width="3.2"/>
<line x1="899.5" y1="862.8" x2="908" y2="862.8" stroke="#000" stroke-width="3.2"/>
<line x1="899.5" y1="811.9" x2="908" y2="811.9" stroke="#000" stroke-width="3.2"/>
<line x1="899.5" y1="761.1" x2="908" y2="761.1" stroke="#000" stroke-width="3.2"/>
<line x1="899.5" y1="710.2" x2="908" y2="710.2" stroke="#000" stroke-width="3.2"/>
<line x1="899.5" y1="659.3" x2="908" y2="659.3" stroke="#000" stroke-width="3.2"/>
<line x1="899.5" y1="608.4" x2="908" y2="608.4" stroke="#000" stroke-width="3.2"/>
<line x1="908" y1="990" x2="908" y2="1006" stroke="#000" stroke-width="3.2"/>
<line x1="1018.2" y1="990" x2="1018.2" y2="1006" stroke="#000" stroke-width="3.2"/>
<line x1="1128.4" y1="990" x2="1128.4" y2="1006" stroke="#000" stroke-width="3.2"/>
<line x1="1238.5" y1="990" x2="1238.5" y2="1006" stroke="#000" stroke-width="3.2"/>
<line x1="1348.7" y1="990" x2="1348.7" y2="1006" stroke="#000" stroke-width="3.2"/>
<line x1="1458.9" y1="990" x2="1458.9" y2="1006" stroke="#000" stroke-width="3.2"/>
<line x1="963.1" y1="990" x2="963.1" y2="998" stroke="#000" stroke-width="3.2"/>
<line x1="1073.3" y1="990" x2="1073.3" y2="998" stroke="#000" stroke-width="3.2"/>
<line x1="1183.5" y1="990" x2="1183.5" y2="998" stroke="#000" stroke-width="3.2"/>
<line x1="1293.6" y1="990" x2="1293.6" y2="998" stroke="#000" stroke-width="3.2"/>
<line x1="1403.8" y1="990" x2="1403.8" y2="998" stroke="#000" stroke-width="3.2"/>
<line x1="1514" y1="990" x2="1514" y2="998" stroke="#000" stroke-width="3.2"/>
<rect x="908" y="583" width="606" height="407" fill="none" stroke="#000" stroke-width="3.4"/>
<text x="878.5" y="999" font-size="29.3" text-anchor="end">2.30</text>
<text x="878.5" y="948.1" font-size="29.3" text-anchor="end">2.35</text>
<text x="878.5" y="897.2" font-size="29.3" text-anchor="end">2.40</text>
<text x="878.5" y="846.4" font-size="29.3" text-anchor="end">2.45</text>
<text x="878.5" y="795.5" font-size="29.3" text-anchor="end">2.50</text>
<text x="878.5" y="744.6" font-size="29.3" text-anchor="end">2.55</text>
<text x="878.5" y="693.8" font-size="29.3" text-anchor="end">2.60</text>
<text x="878.5" y="642.9" font-size="29.3" text-anchor="end">2.65</text>
<text x="878.5" y="592" font-size="29.3" text-anchor="end">2.70</text>
<text x="908" y="1040.5" font-size="29.3" text-anchor="middle">1.7</text>
<text x="1018.2" y="1040.5" font-size="29.3" text-anchor="middle">1.8</text>
<text x="1128.4" y="1040.5" font-size="29.3" text-anchor="middle">1.9</text>
<text x="1238.5" y="1040.5" font-size="29.3" text-anchor="middle">2.0</text>
<text x="1348.7" y="1040.5" font-size="29.3" text-anchor="middle">2.1</text>
<text x="1458.9" y="1040.5" font-size="29.3" text-anchor="middle">2.2</text>
<text x="1211" y="525" font-size="29.8" text-anchor="middle">Ru&#8211;C<tspan dy="7" font-size="19">2</tspan><tspan dy="-7">, distance (&#197;)</tspan></text>
<text x="1211" y="1094.3" font-size="29.8" text-anchor="middle">Ru&#8211;C<tspan dy="7" font-size="19">2</tspan><tspan dy="-7"> distance (&#197;)</tspan></text>
<text transform="translate(805.5,218) rotate(-90)" font-size="29.8" text-anchor="middle">Ru&#8211;C<tspan dy="7" font-size="19">1</tspan><tspan dy="-7"> distance (&#197;)</tspan></text>
<text transform="translate(805.5,784.5) rotate(-90)" font-size="29.8" text-anchor="middle">Ru&#8211;Cl<tspan dy="7" font-size="19">1</tspan><tspan dy="-7"> distance (&#197;)</tspan></text>
<circle cx="959.5" cy="75.8" r="26" fill="#c6dcee" stroke="#0d2440" stroke-width="1.6"/>
<text x="958.2" y="84.2" font-size="32" text-anchor="middle" font-weight="bold">d</text>
<circle cx="959.5" cy="643" r="26.5" fill="#c3cbf0" stroke="#0d1a4a" stroke-width="1.6"/>
<text x="960.3" y="651.5" font-size="32" text-anchor="middle" font-weight="bold">e</text>
<rect x="1546.5" y="63.5" width="36.5" height="18" fill="#fff"/>
<rect x="1546.5" y="975.5" width="36.5" height="17.5" fill="#000"/>
<rect x="1546.5" y="956.9" width="36.5" height="19.2" fill="#0008fc"/>
<rect x="1546.5" y="938.2" width="36.5" height="19.2" fill="#0019fe"/>
<rect x="1546.5" y="919.6" width="36.5" height="19.2" fill="#002afe"/>
<rect x="1546.5" y="901" width="36.5" height="19.2" fill="#003bff"/>
<rect x="1546.5" y="882.4" width="36.5" height="19.2" fill="#004eff"/>
<rect x="1546.5" y="863.8" width="36.5" height="19.2" fill="#0060ff"/>
<rect x="1546.5" y="845.1" width="36.5" height="19.2" fill="#0074ff"/>
<rect x="1546.5" y="826.5" width="36.5" height="19.2" fill="#008aff"/>
<rect x="1546.5" y="807.9" width="36.5" height="19.2" fill="#009fff"/>
<rect x="1546.5" y="789.2" width="36.5" height="19.2" fill="#00b5ff"/>
<rect x="1546.5" y="770.6" width="36.5" height="19.2" fill="#00ccff"/>
<rect x="1546.5" y="752" width="36.5" height="19.2" fill="#00e3ff"/>
<rect x="1546.5" y="733.4" width="36.5" height="19.2" fill="#00f1f8"/>
<rect x="1546.5" y="714.8" width="36.5" height="19.2" fill="#00f6ea"/>
<rect x="1546.5" y="696.1" width="36.5" height="19.2" fill="#00fbdb"/>
<rect x="1546.5" y="677.5" width="36.5" height="19.2" fill="#00fec8"/>
<rect x="1546.5" y="658.9" width="36.5" height="19.2" fill="#00fdaf"/>
<rect x="1546.5" y="640.2" width="36.5" height="19.2" fill="#00fc96"/>
<rect x="1546.5" y="621.6" width="36.5" height="19.2" fill="#00fa60"/>
<rect x="1546.5" y="603" width="36.5" height="19.2" fill="#00fb42"/>
<rect x="1546.5" y="584.4" width="36.5" height="19.2" fill="#00fc27"/>
<rect x="1546.5" y="565.8" width="36.5" height="19.2" fill="#00fe12"/>
<rect x="1546.5" y="547.1" width="36.5" height="19.2" fill="#00ff04"/>
<rect x="1546.5" y="528.5" width="36.5" height="19.2" fill="#00ff00"/>
<rect x="1546.5" y="509.9" width="36.5" height="19.2" fill="#00ff00"/>
<rect x="1546.5" y="491.3" width="36.5" height="19.2" fill="#00ff00"/>
<rect x="1546.5" y="472.6" width="36.5" height="19.2" fill="#00ff00"/>
<rect x="1546.5" y="454" width="36.5" height="19.2" fill="#00ff00"/>
<rect x="1546.5" y="435.4" width="36.5" height="19.2" fill="#00ff00"/>
<rect x="1546.5" y="416.8" width="36.5" height="19.2" fill="#00ff00"/>
<rect x="1546.5" y="398.1" width="36.5" height="19.2" fill="#00ff00"/>
<rect x="1546.5" y="379.5" width="36.5" height="19.2" fill="#86f300"/>
<rect x="1546.5" y="360.9" width="36.5" height="19.2" fill="#a3f600"/>
<rect x="1546.5" y="342.3" width="36.5" height="19.2" fill="#c6f900"/>
<rect x="1546.5" y="323.6" width="36.5" height="19.2" fill="#e2f800"/>
<rect x="1546.5" y="305" width="36.5" height="19.2" fill="#f6f600"/>
<rect x="1546.5" y="286.4" width="36.5" height="19.2" fill="#fddf00"/>
<rect x="1546.5" y="267.8" width="36.5" height="19.2" fill="#ffc600"/>
<rect x="1546.5" y="249.1" width="36.5" height="19.2" fill="#ffb200"/>
<rect x="1546.5" y="230.5" width="36.5" height="19.2" fill="#ff9f00"/>
<rect x="1546.5" y="211.9" width="36.5" height="19.2" fill="#ff8d00"/>
<rect x="1546.5" y="193.2" width="36.5" height="19.2" fill="#ff7c00"/>
<rect x="1546.5" y="174.6" width="36.5" height="19.2" fill="#ff6500"/>
<rect x="1546.5" y="156" width="36.5" height="19.2" fill="#ff4a00"/>
<rect x="1546.5" y="137.4" width="36.5" height="19.2" fill="#ff3200"/>
<rect x="1546.5" y="118.8" width="36.5" height="19.2" fill="#ff1700"/>
<rect x="1546.5" y="100.1" width="36.5" height="19.2" fill="#ff0400"/>
<rect x="1546.5" y="81.5" width="36.5" height="19.2" fill="#ff0100"/>
<rect x="1546" y="63.5" width="37.5" height="929.5" fill="none" stroke="#000" stroke-width="4"/>
<line x1="1585" y1="975.5" x2="1600" y2="975.5" stroke="#000" stroke-width="4"/>
<text x="1612" y="984.5" font-size="29.3" text-anchor="start">9.0E-04</text>
<line x1="1585" y1="863.8" x2="1600" y2="863.8" stroke="#000" stroke-width="4"/>
<text x="1612" y="872.8" font-size="29.3" text-anchor="start">1.3E-03</text>
<line x1="1585" y1="752" x2="1600" y2="752" stroke="#000" stroke-width="4"/>
<text x="1612" y="761" font-size="29.3" text-anchor="start">1.7E-03</text>
<line x1="1585" y1="640.2" x2="1600" y2="640.2" stroke="#000" stroke-width="4"/>
<text x="1612" y="649.2" font-size="29.3" text-anchor="start">2.1E-03</text>
<line x1="1585" y1="528.5" x2="1600" y2="528.5" stroke="#000" stroke-width="4"/>
<text x="1612" y="537.5" font-size="29.3" text-anchor="start">2.4E-03</text>
<line x1="1585" y1="416.8" x2="1600" y2="416.8" stroke="#000" stroke-width="4"/>
<text x="1612" y="425.8" font-size="29.3" text-anchor="start">2.8E-03</text>
<line x1="1585" y1="305" x2="1600" y2="305" stroke="#000" stroke-width="4"/>
<text x="1612" y="314" font-size="29.3" text-anchor="start">3.2E-03</text>
<line x1="1585" y1="193.2" x2="1600" y2="193.2" stroke="#000" stroke-width="4"/>
<text x="1612" y="202.2" font-size="29.3" text-anchor="start">3.6E-03</text>
<line x1="1585" y1="81.5" x2="1600" y2="81.5" stroke="#000" stroke-width="4"/>
<text x="1612" y="90.5" font-size="29.3" text-anchor="start">4.0E-03</text>
<text x="1583" y="32" font-size="30"><tspan font-style="italic">L</tspan><tspan dy="7" font-size="19">2</tspan><tspan dy="-7"> norm</tspan></text>
</svg></body></html>
